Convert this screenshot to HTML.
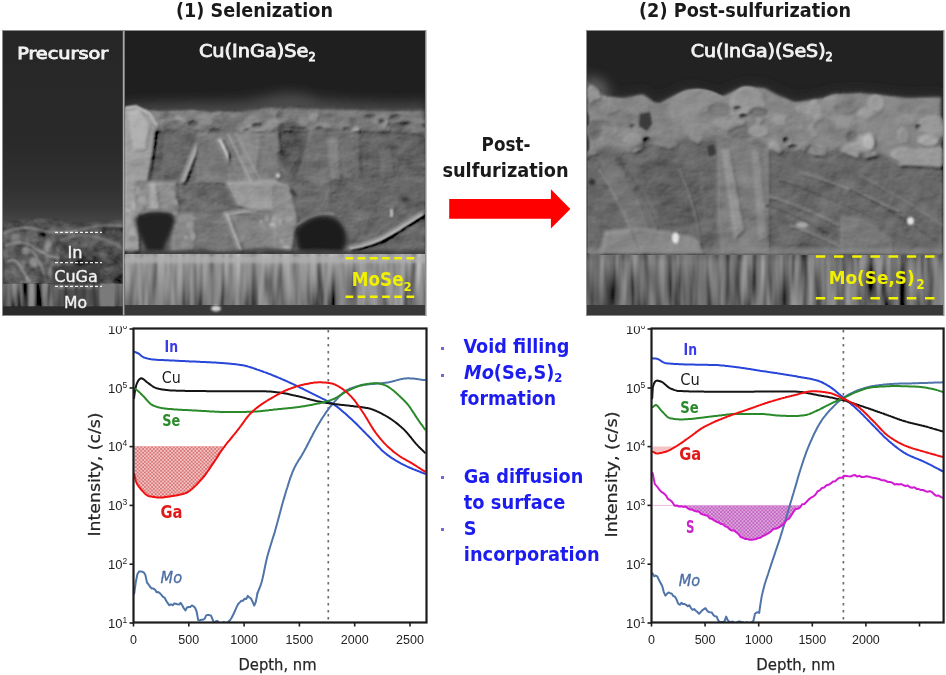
<!DOCTYPE html>
<html><head><meta charset="utf-8"><title>Selenization and post-sulfurization</title>
<style>
html,body{margin:0;padding:0;background:#fff;width:946px;height:675px;overflow:hidden}
svg{display:block}
.tt{font-family:"DejaVu Sans Condensed","DejaVu Sans","Liberation Sans",sans-serif;font-weight:bold;font-size:19.7px;fill:#1a1a1a}
.bl text{font-family:"DejaVu Sans Condensed","DejaVu Sans","Liberation Sans",sans-serif;font-weight:bold;font-size:19.7px}
.tk{font-family:"Liberation Sans",sans-serif;font-size:12.5px;fill:#222}
.sup{font-size:8.5px}
.ax{font-family:"DejaVu Sans","Liberation Sans",sans-serif;font-size:16px;fill:#262626;stroke:#262626;stroke-width:0.25}
.lb{font-family:"DejaVu Sans Condensed","DejaVu Sans",sans-serif;font-weight:bold;font-size:16.5px}
.lbn{font-family:"DejaVu Sans Condensed","DejaVu Sans",sans-serif;font-size:16.5px}
.lbi{font-family:"DejaVu Sans Condensed","DejaVu Sans",sans-serif;font-style:italic;font-size:15.5px;stroke:#4c6ea4;stroke-width:0.3}
.c{fill:none;stroke-width:2;stroke-linejoin:round;stroke-linecap:round}
.sl{font-family:"DejaVu Sans Condensed","DejaVu Sans",sans-serif;font-weight:normal;font-size:16.5px;fill:#f2f2f2;stroke:#f2f2f2;stroke-width:0.85}
.ys{font-family:"DejaVu Sans Condensed","DejaVu Sans",sans-serif;font-weight:bold;font-size:16px;fill:#f0f000}
</style></head><body>
<svg width="946" height="675" viewBox="0 0 946 675">
<defs>
<pattern id="hatchR" width="3.6" height="3.6" patternUnits="userSpaceOnUse"><rect width="3.6" height="3.6" fill="#f3c6c6"/><rect width="1.8" height="1.8" fill="#d97575"/><rect x="1.8" y="1.8" width="1.8" height="1.8" fill="#d97575"/></pattern>
<pattern id="hatchM" width="3.6" height="3.6" patternUnits="userSpaceOnUse"><rect width="3.6" height="3.6" fill="#dea4de"/><rect width="1.8" height="1.8" fill="#c066c0"/><rect x="1.8" y="1.8" width="1.8" height="1.8" fill="#c066c0"/></pattern>
</defs>
<rect width="946" height="675" fill="#fff"/>
<defs>
<filter id="b1" x="-20%" y="-20%" width="140%" height="140%"><feGaussianBlur stdDeviation="1"/></filter>
<filter id="b15" x="-20%" y="-20%" width="140%" height="140%"><feGaussianBlur stdDeviation="1.5"/></filter>
<filter id="b2" x="-20%" y="-20%" width="140%" height="140%"><feGaussianBlur stdDeviation="2.2"/></filter>
<filter id="b3" x="-30%" y="-30%" width="160%" height="160%"><feGaussianBlur stdDeviation="3.5"/></filter>
<filter id="b5" x="-30%" y="-30%" width="160%" height="160%"><feGaussianBlur stdDeviation="6"/></filter>
<filter id="emb" x="0" y="0" width="100%" height="100%">
 <feColorMatrix in="SourceGraphic" type="luminanceToAlpha" result="h"/>
 <feDiffuseLighting in="h" surfaceScale="6" diffuseConstant="1" lighting-color="#fff" result="l"><feDistantLight azimuth="225" elevation="55"/></feDiffuseLighting>
 <feColorMatrix in="l" type="matrix" values="0.33 0.33 0.33 0 0  0.33 0.33 0.33 0 0  0.33 0.33 0.33 0 0  0 0 0 0 1" result="lg"/>
 <feComposite in="SourceGraphic" in2="lg" operator="arithmetic" k1="0" k2="1" k3="0.5" k4="-0.41" result="o"/>
 <feComposite in="o" in2="SourceGraphic" operator="in"/>
</filter>
<filter id="texF" x="0" y="0" width="100%" height="100%">
 <feTurbulence type="fractalNoise" baseFrequency="0.06 0.08" numOctaves="3" seed="4" result="n"/>
 <feColorMatrix in="n" type="matrix" values="0.33 0.33 0.33 0 0  0.33 0.33 0.33 0 0  0.33 0.33 0.33 0 0  0 0 0 0 1" result="g"/>
 <feComposite in="SourceGraphic" in2="g" operator="arithmetic" k1="0" k2="1" k3="0.18" k4="-0.09" result="o"/>
 <feComposite in="o" in2="SourceGraphic" operator="in"/>
</filter>
<filter id="texR" x="0" y="0" width="100%" height="100%">
 <feTurbulence type="fractalNoise" baseFrequency="0.05 0.07" numOctaves="3" seed="21" result="n"/>
 <feColorMatrix in="n" type="matrix" values="0.33 0.33 0.33 0 0  0.33 0.33 0.33 0 0  0.33 0.33 0.33 0 0  0 0 0 0 1" result="g"/>
 <feComposite in="SourceGraphic" in2="g" operator="arithmetic" k1="0" k2="1" k3="0.18" k4="-0.09" result="o"/>
 <feComposite in="o" in2="SourceGraphic" operator="in"/>
</filter>
<filter id="texP" x="0" y="0" width="100%" height="100%">
 <feTurbulence type="fractalNoise" baseFrequency="0.08 0.12" numOctaves="3" seed="8" result="n"/>
 <feColorMatrix in="n" type="matrix" values="0.33 0.33 0.33 0 0  0.33 0.33 0.33 0 0  0.33 0.33 0.33 0 0  0 0 0 0 1" result="g"/>
 <feComposite in="SourceGraphic" in2="g" operator="arithmetic" k1="0" k2="1" k3="0.3" k4="-0.15" result="o"/>
 <feComposite in="o" in2="SourceGraphic" operator="in"/>
</filter>
<filter id="texMo" x="0" y="0" width="100%" height="100%">
 <feTurbulence type="fractalNoise" baseFrequency="0.12 0.015" numOctaves="2" seed="2" result="n"/>
 <feColorMatrix in="n" type="matrix" values="0.33 0.33 0.33 0 0  0.33 0.33 0.33 0 0  0.33 0.33 0.33 0 0  0 0 0 0 1" result="g"/>
 <feComposite in="SourceGraphic" in2="g" operator="arithmetic" k1="0" k2="1" k3="0.9" k4="-0.45" result="o"/>
 <feComposite in="o" in2="SourceGraphic" operator="in"/>
</filter>
<filter id="texMoP" x="0" y="0" width="100%" height="100%">
 <feTurbulence type="fractalNoise" baseFrequency="0.14 0.02" numOctaves="2" seed="5" result="n"/>
 <feColorMatrix in="n" type="matrix" values="0.33 0.33 0.33 0 0  0.33 0.33 0.33 0 0  0.33 0.33 0.33 0 0  0 0 0 0 1" result="g"/>
 <feComposite in="SourceGraphic" in2="g" operator="arithmetic" k1="0" k2="1" k3="0.8" k4="-0.4" result="o"/>
 <feComposite in="o" in2="SourceGraphic" operator="in"/>
</filter>
<filter id="texMo2" x="0" y="0" width="100%" height="100%">
 <feTurbulence type="fractalNoise" baseFrequency="0.12 0.015" numOctaves="2" seed="12" result="n"/>
 <feColorMatrix in="n" type="matrix" values="0.33 0.33 0.33 0 0  0.33 0.33 0.33 0 0  0.33 0.33 0.33 0 0  0 0 0 0 1" result="g"/>
 <feComposite in="SourceGraphic" in2="g" operator="arithmetic" k1="0" k2="1" k3="0.8" k4="-0.4" result="o"/>
 <feComposite in="o" in2="SourceGraphic" operator="in"/>
</filter>
<linearGradient id="gP" gradientUnits="userSpaceOnUse" x1="0" y1="31" x2="0" y2="315"><stop offset="0" stop-color="#262626"/><stop offset="0.4" stop-color="#2a2a2a"/><stop offset="0.55" stop-color="#313131"/><stop offset="0.63" stop-color="#3a3a3a"/><stop offset="0.68" stop-color="#484848"/><stop offset="1" stop-color="#4c4c4c"/></linearGradient>
<linearGradient id="gMo" x1="0" y1="0" x2="0" y2="1"><stop offset="0" stop-color="#a4a4a4"/><stop offset="0.25" stop-color="#929292"/><stop offset="1" stop-color="#7c7c7c"/></linearGradient>
<linearGradient id="gMo2" x1="0" y1="0" x2="0" y2="1"><stop offset="0" stop-color="#6a6a6a"/><stop offset="0.15" stop-color="#787878"/><stop offset="1" stop-color="#6e6e6e"/></linearGradient>
<linearGradient id="gMoP" x1="0" y1="0" x2="0" y2="1"><stop offset="0" stop-color="#6c6c6c"/><stop offset="1" stop-color="#5a5a5a"/></linearGradient>
<clipPath id="cpL"><rect x="124.5" y="31" width="300.5" height="284"/></clipPath>
<clipPath id="cpP"><rect x="3" y="31" width="120" height="284"/></clipPath>
<clipPath id="cpR"><rect x="587" y="31" width="356" height="284"/></clipPath>
</defs>
<rect x="2" y="30" width="424.5" height="286" fill="#8c8c8c"/>
<rect x="586" y="30" width="358.5" height="286" fill="#8c8c8c"/>
<g clip-path="url(#cpP)">
<rect x="3" y="31" width="120" height="284" fill="url(#gP)"/>
<g filter="url(#texP)"><g filter="url(#b15)">
<polygon points="3.0,224.0 20.0,220.0 40.0,218.0 60.0,221.0 80.0,224.0 100.0,222.0 123.0,220.0 123.0,290.0 3.0,290.0" fill="#505050" />
<polygon points="3.0,232.0 14.0,228.0 28.0,236.0 40.0,244.0 54.0,258.0 52.0,285.0 3.0,285.0" fill="#5a5a5a" />
<polygon points="56.0,230.0 75.0,227.0 95.0,230.0 112.0,236.0 122.0,244.0 100.0,248.0 75.0,246.0 60.0,242.0" fill="#5a5a5a" />
<polygon points="55.0,250.0 122.0,248.0 122.0,284.0 55.0,284.0" fill="#464646" />
</g>
<g filter="url(#b1)">
<ellipse cx="13.2" cy="268.4" rx="2.0" ry="7.0" fill="rgb(102,102,102)" opacity="0.75"/>
<ellipse cx="49.2" cy="260.1" rx="2.8" ry="4.2" fill="rgb(100,100,100)" opacity="0.75"/>
<ellipse cx="4.2" cy="253.4" rx="3.5" ry="4.2" fill="rgb(111,111,111)" opacity="0.75"/>
<ellipse cx="17.0" cy="238.0" rx="4.0" ry="6.7" fill="rgb(114,114,114)" opacity="0.75"/>
<ellipse cx="53.0" cy="264.9" rx="2.7" ry="3.6" fill="rgb(135,135,135)" opacity="0.75"/>
<ellipse cx="57.3" cy="253.3" rx="1.9" ry="7.1" fill="rgb(121,121,121)" opacity="0.75"/>
<ellipse cx="11.0" cy="279.6" rx="2.4" ry="5.4" fill="rgb(93,93,93)" opacity="0.75"/>
<ellipse cx="14.5" cy="237.7" rx="3.7" ry="4.2" fill="rgb(125,125,125)" opacity="0.75"/>
<ellipse cx="47.7" cy="245.8" rx="3.4" ry="6.8" fill="rgb(159,159,159)" opacity="0.75"/>
<ellipse cx="36.5" cy="270.3" rx="1.8" ry="5.4" fill="rgb(109,109,109)" opacity="0.75"/>
<ellipse cx="50.3" cy="245.5" rx="2.5" ry="4.8" fill="rgb(155,155,155)" opacity="0.75"/>
<ellipse cx="29.3" cy="254.1" rx="4.0" ry="4.9" fill="rgb(98,98,98)" opacity="0.75"/>
<ellipse cx="5.5" cy="240.4" rx="2.7" ry="5.5" fill="rgb(105,105,105)" opacity="0.75"/>
<ellipse cx="34.8" cy="271.2" rx="2.1" ry="6.0" fill="rgb(70,70,70)" opacity="0.75"/>
<ellipse cx="35.2" cy="265.3" rx="2.4" ry="7.6" fill="rgb(123,123,123)" opacity="0.75"/>
<ellipse cx="23.4" cy="264.1" rx="2.3" ry="3.5" fill="rgb(129,129,129)" opacity="0.75"/>
<ellipse cx="7.7" cy="274.2" rx="3.2" ry="6.4" fill="rgb(121,121,121)" opacity="0.75"/>
<ellipse cx="54.3" cy="281.0" rx="2.5" ry="7.9" fill="rgb(98,98,98)" opacity="0.75"/>
<ellipse cx="57.8" cy="263.8" rx="2.4" ry="4.2" fill="rgb(135,135,135)" opacity="0.75"/>
<ellipse cx="53.1" cy="243.6" rx="1.7" ry="7.0" fill="rgb(102,102,102)" opacity="0.75"/>
<ellipse cx="47.3" cy="258.7" rx="2.1" ry="4.4" fill="rgb(121,121,121)" opacity="0.75"/>
<ellipse cx="27.5" cy="244.0" rx="1.7" ry="4.7" fill="rgb(112,112,112)" opacity="0.75"/>
<ellipse cx="54.4" cy="282.2" rx="2.1" ry="7.8" fill="rgb(117,117,117)" opacity="0.75"/>
<ellipse cx="33.4" cy="270.2" rx="1.6" ry="4.1" fill="rgb(95,95,95)" opacity="0.75"/>
<ellipse cx="50.9" cy="273.4" rx="2.6" ry="5.9" fill="rgb(137,137,137)" opacity="0.75"/>
<ellipse cx="51.6" cy="250.5" rx="2.8" ry="4.4" fill="rgb(99,99,99)" opacity="0.75"/>
<ellipse cx="47.0" cy="236.5" rx="1.6" ry="6.0" fill="rgb(98,98,98)" opacity="0.75"/>
<ellipse cx="40.1" cy="276.0" rx="3.0" ry="4.3" fill="rgb(72,72,72)" opacity="0.75"/>
<ellipse cx="26.7" cy="281.1" rx="1.7" ry="3.5" fill="rgb(126,126,126)" opacity="0.75"/>
<ellipse cx="5.4" cy="257.0" rx="1.9" ry="7.3" fill="rgb(112,112,112)" opacity="0.75"/>
<ellipse cx="40.7" cy="241.9" rx="2.7" ry="4.1" fill="rgb(100,100,100)" opacity="0.75"/>
<ellipse cx="13.3" cy="244.6" rx="2.4" ry="6.5" fill="rgb(113,113,113)" opacity="0.75"/>
<ellipse cx="34.8" cy="238.2" rx="3.4" ry="7.0" fill="rgb(108,108,108)" opacity="0.75"/>
<ellipse cx="4.4" cy="257.8" rx="1.7" ry="6.8" fill="rgb(78,78,78)" opacity="0.75"/>
<ellipse cx="13.8" cy="269.4" rx="2.3" ry="3.2" fill="rgb(117,117,117)" opacity="0.75"/>
<ellipse cx="25.8" cy="250.5" rx="3.8" ry="4.5" fill="rgb(148,148,148)" opacity="0.75"/>
<ellipse cx="32.2" cy="261.8" rx="3.0" ry="5.5" fill="rgb(126,126,126)" opacity="0.75"/>
<ellipse cx="45.1" cy="281.5" rx="2.3" ry="6.5" fill="rgb(115,115,115)" opacity="0.75"/>
<ellipse cx="33.4" cy="262.4" rx="3.9" ry="4.8" fill="rgb(151,151,151)" opacity="0.75"/>
<ellipse cx="21.8" cy="282.7" rx="1.8" ry="3.4" fill="rgb(132,132,132)" opacity="0.75"/>
<ellipse cx="64.4" cy="272.7" rx="5.5" ry="2.0" fill="rgb(101,101,101)" opacity="0.6"/>
<ellipse cx="98.7" cy="254.1" rx="5.1" ry="2.8" fill="rgb(83,83,83)" opacity="0.6"/>
<ellipse cx="84.1" cy="243.3" rx="4.0" ry="3.4" fill="rgb(115,115,115)" opacity="0.6"/>
<ellipse cx="109.0" cy="268.2" rx="4.8" ry="2.5" fill="rgb(104,104,104)" opacity="0.6"/>
<ellipse cx="83.1" cy="256.3" rx="3.3" ry="3.0" fill="rgb(73,73,73)" opacity="0.6"/>
<ellipse cx="89.5" cy="267.9" rx="6.6" ry="3.6" fill="rgb(71,71,71)" opacity="0.6"/>
<ellipse cx="97.6" cy="269.9" rx="5.8" ry="3.4" fill="rgb(85,85,85)" opacity="0.6"/>
<ellipse cx="74.7" cy="277.8" rx="4.5" ry="3.2" fill="rgb(74,74,74)" opacity="0.6"/>
<ellipse cx="109.5" cy="280.2" rx="4.3" ry="2.6" fill="rgb(101,101,101)" opacity="0.6"/>
<ellipse cx="83.5" cy="239.3" rx="5.2" ry="2.2" fill="rgb(99,99,99)" opacity="0.6"/>
<ellipse cx="78.2" cy="279.2" rx="3.4" ry="3.9" fill="rgb(99,99,99)" opacity="0.6"/>
<ellipse cx="102.2" cy="242.3" rx="4.3" ry="3.3" fill="rgb(83,83,83)" opacity="0.6"/>
<path d="M3,234 Q20,224 40,230 T80,230 T123,226" stroke="#8a8a8a" stroke-width="2.2" fill="none"/>
<path d="M5,246 Q20,238 35,248 T60,258" stroke="#9a9a9a" stroke-width="1.8" fill="none"/>
<path d="M60,240 Q80,232 100,238 T122,250" stroke="#7e7e7e" stroke-width="1.8" fill="none"/>
<path d="M8,262 Q14,256 20,266 T30,282" stroke="#9a9a9a" stroke-width="2" fill="none"/>
<path d="M24,250 Q30,246 36,256 T44,274" stroke="#8e8e8e" stroke-width="1.8" fill="none"/>
</g>
</g>
<g filter="url(#texMoP)"><rect x="3" y="283.5" width="120" height="23" fill="url(#gMoP)"/></g>
<rect x="100" y="284" width="15" height="23" fill="#7a7a7a" filter="url(#b1)"/>
<rect x="52" y="266" width="48" height="19" fill="#3a3a3a" opacity="0.75" filter="url(#b1)"/>
<rect x="58" y="289" width="40" height="18" fill="#3a3a3a" opacity="0.6" filter="url(#b1)"/>
<rect x="3" y="306.5" width="120" height="9" fill="#2a2a2a"/>
</g>
<rect x="122.8" y="31" width="1.6" height="284" fill="#a8a8a8"/>
<g clip-path="url(#cpL)">
<rect x="124.5" y="31" width="301" height="284" fill="#1f1f1f"/>
<g filter="url(#b5)">
<polygon points="124.0,104.0 180.0,102.0 240.0,101.0 270.0,96.0 300.0,97.0 350.0,101.0 400.0,103.0 426.0,101.0 426.0,135.0 124.0,135.0" fill="#474747" />
<ellipse cx="290" cy="102" rx="28" ry="9" fill="#4c4c4c"/>
</g>
<g filter="url(#emb)">
<g filter="url(#texF)">
<g filter="url(#b2)">
<polygon points="124.0,107.0 160.0,109.0 200.0,110.0 240.0,110.0 270.0,105.0 300.0,106.0 350.0,108.0 400.0,109.0 426.0,108.0 426.0,256.0 124.0,256.0" fill="#6c6c6c" />
<polygon points="150.0,111.0 250.0,113.0 320.0,109.0 420.0,112.0 420.0,132.0 300.0,131.0 200.0,130.0 150.0,128.0" fill="#7a7a7a" />
</g>
<g filter="url(#b15)">
<ellipse cx="274.9" cy="124.3" rx="7.6" ry="4.6" fill="rgb(147,147,147)" opacity="0.7"/>
<ellipse cx="201.0" cy="123.3" rx="8.4" ry="5.3" fill="rgb(123,123,123)" opacity="0.7"/>
<ellipse cx="176.0" cy="118.7" rx="8.9" ry="2.6" fill="rgb(156,156,156)" opacity="0.7"/>
<ellipse cx="421.1" cy="133.2" rx="8.6" ry="4.7" fill="rgb(147,147,147)" opacity="0.7"/>
<ellipse cx="193.5" cy="112.3" rx="5.3" ry="3.3" fill="rgb(126,126,126)" opacity="0.7"/>
<ellipse cx="158.3" cy="122.2" rx="7.1" ry="5.4" fill="rgb(131,131,131)" opacity="0.7"/>
<ellipse cx="293.3" cy="126.1" rx="7.2" ry="3.5" fill="rgb(108,108,108)" opacity="0.7"/>
<ellipse cx="425.4" cy="133.9" rx="9.9" ry="5.0" fill="rgb(132,132,132)" opacity="0.7"/>
<ellipse cx="237.0" cy="117.1" rx="9.4" ry="3.9" fill="rgb(130,130,130)" opacity="0.7"/>
<ellipse cx="383.7" cy="120.5" rx="10.7" ry="5.5" fill="rgb(137,137,137)" opacity="0.7"/>
<ellipse cx="150.2" cy="116.6" rx="10.9" ry="3.9" fill="rgb(147,147,147)" opacity="0.7"/>
<ellipse cx="170.2" cy="125.8" rx="9.4" ry="3.4" fill="rgb(122,122,122)" opacity="0.7"/>
<ellipse cx="174.1" cy="119.3" rx="4.8" ry="3.4" fill="rgb(158,158,158)" opacity="0.7"/>
<ellipse cx="177.9" cy="113.3" rx="9.6" ry="3.1" fill="rgb(125,125,125)" opacity="0.7"/>
<ellipse cx="304.4" cy="121.8" rx="4.9" ry="4.8" fill="rgb(141,141,141)" opacity="0.7"/>
<ellipse cx="182.2" cy="121.3" rx="5.5" ry="3.4" fill="rgb(156,156,156)" opacity="0.7"/>
<ellipse cx="418.0" cy="129.7" rx="5.5" ry="3.9" fill="rgb(120,120,120)" opacity="0.7"/>
<ellipse cx="385.8" cy="126.1" rx="4.7" ry="6.0" fill="rgb(163,163,163)" opacity="0.7"/>
<ellipse cx="208.9" cy="117.7" rx="6.1" ry="2.8" fill="rgb(134,134,134)" opacity="0.7"/>
<ellipse cx="174.9" cy="124.8" rx="5.7" ry="4.6" fill="rgb(117,117,117)" opacity="0.7"/>
<ellipse cx="252.6" cy="122.0" rx="8.0" ry="5.5" fill="rgb(149,149,149)" opacity="0.7"/>
<ellipse cx="200.5" cy="115.4" rx="10.4" ry="5.4" fill="rgb(127,127,127)" opacity="0.7"/>
<ellipse cx="218.9" cy="116.2" rx="5.4" ry="5.8" fill="rgb(129,129,129)" opacity="0.7"/>
<ellipse cx="393.5" cy="125.3" rx="7.0" ry="2.9" fill="rgb(94,94,94)" opacity="0.7"/>
<ellipse cx="160.7" cy="133.2" rx="5.8" ry="5.4" fill="rgb(133,133,133)" opacity="0.7"/>
<ellipse cx="314.6" cy="118.5" rx="5.2" ry="5.0" fill="rgb(156,156,156)" opacity="0.7"/>
<ellipse cx="169.0" cy="117.0" rx="8.3" ry="3.5" fill="rgb(102,102,102)" opacity="0.7"/>
<ellipse cx="403.2" cy="116.5" rx="4.1" ry="3.4" fill="rgb(120,120,120)" opacity="0.7"/>
<ellipse cx="273.0" cy="113.3" rx="8.0" ry="3.0" fill="rgb(138,138,138)" opacity="0.7"/>
<ellipse cx="250.0" cy="131.6" rx="10.9" ry="4.8" fill="rgb(145,145,145)" opacity="0.7"/>
<ellipse cx="340.8" cy="124.9" rx="4.1" ry="5.7" fill="rgb(134,134,134)" opacity="0.7"/>
<ellipse cx="343.5" cy="133.2" rx="4.1" ry="4.7" fill="rgb(135,135,135)" opacity="0.7"/>
<ellipse cx="283.1" cy="128.1" rx="4.5" ry="4.4" fill="rgb(106,106,106)" opacity="0.7"/>
<ellipse cx="353.4" cy="131.8" rx="9.2" ry="5.0" fill="rgb(185,185,185)" opacity="0.7"/>
<ellipse cx="368.9" cy="132.1" rx="10.3" ry="5.5" fill="rgb(117,117,117)" opacity="0.7"/>
<ellipse cx="265.1" cy="129.4" rx="10.0" ry="4.5" fill="rgb(151,151,151)" opacity="0.7"/>
<ellipse cx="322.5" cy="120.4" rx="4.6" ry="4.7" fill="rgb(112,112,112)" opacity="0.7"/>
<ellipse cx="424.2" cy="131.4" rx="9.1" ry="3.9" fill="rgb(121,121,121)" opacity="0.7"/>
<ellipse cx="352.9" cy="124.8" rx="4.6" ry="5.1" fill="rgb(103,103,103)" opacity="0.7"/>
<ellipse cx="158.2" cy="125.2" rx="7.4" ry="3.3" fill="rgb(143,143,143)" opacity="0.7"/>
<ellipse cx="342.7" cy="122.9" rx="5.8" ry="2.5" fill="rgb(104,104,104)" opacity="0.7"/>
<ellipse cx="233.1" cy="126.9" rx="5.4" ry="3.1" fill="rgb(108,108,108)" opacity="0.7"/>
<ellipse cx="400.0" cy="126.5" rx="6.3" ry="4.8" fill="rgb(100,100,100)" opacity="0.7"/>
<ellipse cx="204.8" cy="121.5" rx="9.6" ry="5.7" fill="rgb(144,144,144)" opacity="0.7"/>
<ellipse cx="393.0" cy="120.5" rx="5.0" ry="4.2" fill="rgb(119,119,119)" opacity="0.7"/>
<ellipse cx="381.0" cy="130.7" rx="9.0" ry="5.8" fill="rgb(125,125,125)" opacity="0.7"/>
<ellipse cx="226.4" cy="115.7" rx="5.5" ry="3.9" fill="rgb(119,119,119)" opacity="0.7"/>
<ellipse cx="322.7" cy="122.9" rx="6.2" ry="5.4" fill="rgb(135,135,135)" opacity="0.7"/>
<ellipse cx="421.0" cy="122.0" rx="10.1" ry="2.6" fill="rgb(135,135,135)" opacity="0.7"/>
<ellipse cx="345.6" cy="124.6" rx="6.2" ry="5.3" fill="rgb(133,133,133)" opacity="0.7"/>
<ellipse cx="155.3" cy="115.0" rx="9.8" ry="3.3" fill="rgb(128,128,128)" opacity="0.7"/>
<ellipse cx="188.9" cy="113.0" rx="8.4" ry="4.1" fill="rgb(133,133,133)" opacity="0.7"/>
<ellipse cx="323.9" cy="126.4" rx="8.8" ry="3.2" fill="rgb(146,146,146)" opacity="0.7"/>
<ellipse cx="281.1" cy="115.9" rx="4.1" ry="4.2" fill="rgb(94,94,94)" opacity="0.7"/>
<ellipse cx="347.1" cy="115.9" rx="8.9" ry="4.3" fill="rgb(129,129,129)" opacity="0.7"/>
<ellipse cx="319.8" cy="129.6" rx="4.2" ry="2.7" fill="#555" opacity="0.8"/>
<ellipse cx="395.6" cy="117.6" rx="5.8" ry="2.6" fill="#555" opacity="0.8"/>
<ellipse cx="193.8" cy="124.2" rx="4.9" ry="2.9" fill="#555" opacity="0.8"/>
<ellipse cx="258.0" cy="126.2" rx="5.6" ry="2.7" fill="#555" opacity="0.8"/>
<ellipse cx="405.5" cy="124.3" rx="5.0" ry="1.8" fill="#555" opacity="0.8"/>
<ellipse cx="347.7" cy="130.7" rx="4.9" ry="2.6" fill="#555" opacity="0.8"/>
<ellipse cx="215.5" cy="132.2" rx="5.9" ry="3.0" fill="#555" opacity="0.8"/>
<ellipse cx="299.6" cy="130.2" rx="4.0" ry="2.9" fill="#555" opacity="0.8"/>
<ellipse cx="382.5" cy="122.3" rx="3.2" ry="2.2" fill="#555" opacity="0.8"/>
<ellipse cx="303.1" cy="129.8" rx="4.5" ry="1.5" fill="#555" opacity="0.8"/>
<ellipse cx="370.4" cy="117.2" rx="5.4" ry="1.8" fill="#555" opacity="0.8"/>
<ellipse cx="247.1" cy="130.2" rx="3.4" ry="1.7" fill="#555" opacity="0.8"/>
<ellipse cx="294.3" cy="129.0" rx="5.5" ry="2.5" fill="#555" opacity="0.8"/>
<ellipse cx="405.9" cy="124.9" rx="5.8" ry="1.6" fill="#555" opacity="0.8"/>
</g>
<g filter="url(#b15)">
<polygon points="124.0,106.0 136.0,105.0 150.0,112.0 158.0,128.0 152.0,160.0 146.0,196.0 124.0,198.0" fill="#9e9e9e" />
<polygon points="128.0,112.0 140.0,110.0 150.0,124.0 146.0,150.0 134.0,150.0" fill="#b0b0b0" />
<polygon points="156.0,132.0 197.0,133.0 197.0,196.0 150.0,196.0" fill="#6a6a6a" />
<polygon points="156.0,132.0 166.0,133.0 160.0,196.0 150.0,196.0" fill="#5e5e5e" />
<polygon points="200.0,134.0 204.0,136.0 184.0,187.0 180.0,185.0" fill="#a0a0a0" />
<polygon points="197.0,134.0 229.0,134.0 229.0,193.0 197.0,193.0" fill="#7a7a7a" />
<polygon points="218.0,140.0 222.0,139.0 246.0,187.0 241.0,190.0" fill="#c0c0c0" />
<polygon points="229.0,134.0 279.0,132.0 279.0,182.0 250.0,190.0 229.0,190.0" fill="#7e7e7e" />
<polygon points="240.0,136.0 262.0,134.0 256.0,180.0 246.0,182.0" fill="#8c8c8c" />
<polygon points="279.0,131.0 310.0,131.0 300.0,172.0 296.0,178.0 284.0,168.0" fill="#565656" />
<polygon points="310.0,131.0 360.0,132.0 360.0,210.0 318.0,210.0 304.0,192.0" fill="#727272" />
<polygon points="328.0,140.0 338.0,140.0 342.0,200.0 334.0,200.0" fill="#828282" />
<polygon points="360.0,132.0 426.0,134.0 426.0,212.0 360.0,212.0" fill="#646464" />
<polygon points="380.0,150.0 392.0,150.0 396.0,200.0 384.0,200.0" fill="#6e6e6e" />
<polygon points="124.0,196.0 140.0,196.0 140.0,252.0 124.0,252.0" fill="#a0a0a0" />
<polygon points="136.0,182.0 178.0,182.0 180.0,214.0 136.0,214.0" fill="#8e8e8e" />
<polygon points="150.0,184.0 156.0,183.0 160.0,210.0 152.0,210.0" fill="#a8a8a8" />
<polygon points="172.0,214.0 195.0,214.0 197.0,252.0 172.0,252.0" fill="#8a8a8a" />
<polygon points="176.0,183.0 230.0,183.0 226.0,212.0 197.0,214.0 178.0,212.0" fill="#6c6c6c" />
<polygon points="195.0,216.0 230.0,212.0 250.0,208.0 290.0,210.0 292.0,220.0 285.0,235.0 262.0,248.0 230.0,252.0 195.0,252.0" fill="#777" />
<polygon points="222.0,215.0 240.0,211.0 260.0,212.0 238.0,217.0" fill="#a8a8a8" />
<polygon points="226.0,183.0 275.0,180.0 290.0,186.0 288.0,210.0 262.0,212.0 238.0,207.0" fill="#9a9a9a" />
<polygon points="225.0,214.0 229.0,213.0 244.0,252.0 239.0,252.0" fill="#a8a8a8" />
<polygon points="229.0,214.0 274.0,212.0 274.0,252.0 244.0,252.0" fill="#858585" />
<polygon points="274.0,185.0 296.0,188.0 298.0,224.0 292.0,252.0 274.0,252.0" fill="#8e8e8e" />
<polygon points="290.0,185.0 330.0,184.0 322.0,214.0 298.0,218.0" fill="#6e6e6e" />
<polygon points="330.0,180.0 426.0,180.0 426.0,216.0 330.0,216.0" fill="#696969" />
<polygon points="347.0,218.0 362.0,214.0 380.0,213.0 394.0,216.0 405.0,222.0 404.0,234.0 390.0,240.0 370.0,246.0 350.0,250.0 346.0,236.0" fill="#6c6c6c" />
<path d="M350,249 Q372,246 390,235 Q408,224 424,214" stroke="#b8b8b8" stroke-width="3.2" fill="none"/>
<polygon points="392.0,238.0 426.0,220.0 426.0,254.0 392.0,254.0" fill="#6a6a6a" />
</g>
</g>
</g>
<g filter="url(#b1)">
<ellipse cx="132.0" cy="232.9" rx="3.1" ry="3.7" fill="rgb(173,173,173)" opacity="0.8"/>
<ellipse cx="136.7" cy="209.7" rx="3.1" ry="3.0" fill="rgb(154,154,154)" opacity="0.8"/>
<ellipse cx="131.0" cy="250.2" rx="3.9" ry="3.1" fill="rgb(148,148,148)" opacity="0.8"/>
<ellipse cx="128.2" cy="216.1" rx="2.7" ry="1.6" fill="rgb(164,164,164)" opacity="0.8"/>
<ellipse cx="132.5" cy="238.3" rx="3.8" ry="2.9" fill="rgb(136,136,136)" opacity="0.8"/>
<ellipse cx="133.5" cy="206.1" rx="1.6" ry="4.0" fill="rgb(183,183,183)" opacity="0.8"/>
<ellipse cx="128.0" cy="211.1" rx="1.8" ry="2.3" fill="rgb(191,191,191)" opacity="0.8"/>
<ellipse cx="127.4" cy="214.2" rx="1.5" ry="2.8" fill="rgb(149,149,149)" opacity="0.8"/>
<ellipse cx="128.3" cy="220.5" rx="1.6" ry="3.7" fill="rgb(171,171,171)" opacity="0.8"/>
<ellipse cx="134.5" cy="229.1" rx="1.8" ry="1.9" fill="rgb(175,175,175)" opacity="0.8"/>
<ellipse cx="175.4" cy="226.0" rx="2.0" ry="2.0" fill="rgb(163,163,163)" opacity="0.8"/>
<ellipse cx="190.3" cy="231.4" rx="2.7" ry="2.4" fill="rgb(155,155,155)" opacity="0.8"/>
<ellipse cx="187.1" cy="243.8" rx="2.7" ry="2.4" fill="rgb(147,147,147)" opacity="0.8"/>
<ellipse cx="193.9" cy="218.2" rx="3.7" ry="1.5" fill="rgb(156,156,156)" opacity="0.8"/>
<ellipse cx="187.2" cy="230.9" rx="3.3" ry="1.9" fill="rgb(134,134,134)" opacity="0.8"/>
<ellipse cx="185.9" cy="237.3" rx="1.6" ry="1.7" fill="rgb(184,184,184)" opacity="0.8"/>
<ellipse cx="188.8" cy="241.7" rx="2.8" ry="2.2" fill="rgb(131,131,131)" opacity="0.8"/>
<ellipse cx="196.5" cy="250.5" rx="2.7" ry="1.6" fill="rgb(154,154,154)" opacity="0.8"/>
<ellipse cx="183.1" cy="244.5" rx="2.0" ry="3.3" fill="rgb(146,146,146)" opacity="0.8"/>
<ellipse cx="189.4" cy="224.9" rx="3.1" ry="3.4" fill="rgb(157,157,157)" opacity="0.8"/>
<ellipse cx="199.1" cy="245.6" rx="3.8" ry="3.7" fill="rgb(119,119,119)" opacity="0.8"/>
<ellipse cx="193.0" cy="236.3" rx="2.8" ry="3.6" fill="rgb(163,163,163)" opacity="0.8"/>
<ellipse cx="281.8" cy="241.4" rx="2.2" ry="3.0" fill="rgb(161,161,161)" opacity="0.8"/>
<ellipse cx="279.8" cy="221.5" rx="2.0" ry="3.9" fill="rgb(167,167,167)" opacity="0.8"/>
<ellipse cx="260.7" cy="249.2" rx="4.0" ry="3.2" fill="rgb(163,163,163)" opacity="0.8"/>
<ellipse cx="258.3" cy="249.7" rx="2.5" ry="3.8" fill="rgb(136,136,136)" opacity="0.8"/>
<ellipse cx="288.9" cy="219.2" rx="3.5" ry="3.5" fill="rgb(163,163,163)" opacity="0.8"/>
<ellipse cx="266.7" cy="218.3" rx="2.4" ry="3.5" fill="rgb(160,160,160)" opacity="0.8"/>
<ellipse cx="286.1" cy="246.9" rx="3.6" ry="1.5" fill="rgb(189,189,189)" opacity="0.8"/>
<ellipse cx="258.2" cy="246.8" rx="3.0" ry="2.3" fill="rgb(153,153,153)" opacity="0.8"/>
<ellipse cx="262.9" cy="226.6" rx="2.6" ry="2.0" fill="rgb(148,148,148)" opacity="0.8"/>
<ellipse cx="261.1" cy="221.7" rx="1.8" ry="1.8" fill="rgb(177,177,177)" opacity="0.8"/>
<ellipse cx="273.8" cy="218.9" rx="2.7" ry="3.1" fill="rgb(166,166,166)" opacity="0.8"/>
<ellipse cx="266.9" cy="214.9" rx="1.7" ry="2.3" fill="rgb(138,138,138)" opacity="0.8"/>
<ellipse cx="271.7" cy="223.6" rx="1.5" ry="2.6" fill="rgb(148,148,148)" opacity="0.8"/>
<ellipse cx="272.6" cy="224.7" rx="3.3" ry="2.1" fill="rgb(191,191,191)" opacity="0.8"/>
<ellipse cx="137.9" cy="190.1" rx="1.8" ry="3.9" fill="rgb(166,166,166)" opacity="0.8"/>
<ellipse cx="164.4" cy="210.9" rx="2.3" ry="3.5" fill="rgb(147,147,147)" opacity="0.8"/>
<ellipse cx="137.8" cy="192.2" rx="3.5" ry="2.5" fill="rgb(156,156,156)" opacity="0.8"/>
<ellipse cx="174.6" cy="188.0" rx="3.1" ry="2.0" fill="rgb(129,129,129)" opacity="0.8"/>
<ellipse cx="144.8" cy="209.0" rx="2.2" ry="3.3" fill="rgb(120,120,120)" opacity="0.8"/>
<ellipse cx="175.9" cy="202.3" rx="2.1" ry="3.2" fill="rgb(164,164,164)" opacity="0.8"/>
<ellipse cx="177.8" cy="206.8" rx="1.7" ry="3.4" fill="rgb(132,132,132)" opacity="0.8"/>
<ellipse cx="143.0" cy="191.7" rx="1.6" ry="1.9" fill="rgb(156,156,156)" opacity="0.8"/>
<ellipse cx="152.9" cy="198.4" rx="3.4" ry="1.7" fill="rgb(158,158,158)" opacity="0.8"/>
<ellipse cx="142.0" cy="199.6" rx="3.8" ry="3.8" fill="rgb(166,166,166)" opacity="0.8"/>
</g>
<g filter="url(#b1)" fill="none">
<path d="M228,134 L252,184" stroke="#acacac" stroke-width="1.6"/>
<path d="M236,133 L259,178" stroke="#a2a2a2" stroke-width="1.4"/>
<path d="M126,108 L136,106 L150,114 L157,126" stroke="#c4c4c4" stroke-width="2"/>
<circle cx="278" cy="175.5" r="2.2" fill="#d4d4d4"/>
<path d="M291,190 L296,196" stroke="#3a3a3a" stroke-width="3"/>
<path d="M140,214 Q156,208 176,214" stroke="#a8a8a8" stroke-width="2"/>
<path d="M296,226 Q312,212 334,214" stroke="#9a9a9a" stroke-width="2"/>
</g>
<g filter="url(#b2)">
<path d="M135,218 C142,212 156,211 166,212 C172,213 176,216 175,222 C172,232 167,240 165,247 L164,252 L146,252 L145,247 C140,238 136,228 135,218 Z" fill="#242424"/>
<path d="M296,230 C304,220 314,216 324,216 C336,216 344,224 346,234 C347,242 345,248 342,252 L300,252 C297,246 295,238 296,230 Z" fill="#1c1c1c"/>
<ellipse cx="405.5" cy="199.5" rx="4" ry="2.5" fill="#2c2c2c"/>
</g>
<rect x="390" y="209" width="3" height="8" fill="#bdbdbd" filter="url(#b1)"/>
<g filter="url(#b15)" opacity="0.75">
<path d="M124,252 L150,249 L175,251 L200,248 L215,252 L240,250 L262,247 L290,250 L320,249 L350,251 L380,249 L400,251 L426,249 L426,256 L124,256 Z" fill="#3c3c3c"/>
</g>
<g filter="url(#texMo)"><rect x="124.5" y="254" width="301" height="52" fill="url(#gMo)"/></g>
<g filter="url(#b1)">
<path d="M124,259 Q130,254 140,258 Q150,253 160,257 Q170,255 178,258 Q190,252 200,257 Q215,254 228,258 Q240,255 250,257 Q262,253 275,257 Q290,254 300,257 Q320,254 340,258 Q360,254 380,257 Q400,254 426,257 L426,263 L124,263 Z" fill="#b0b0b0" opacity="0.7"/>
</g>
<rect x="124.5" y="305" width="301" height="10" fill="#383838"/>
<ellipse cx="216" cy="308.5" rx="5" ry="3" fill="#d0d0d0" filter="url(#b1)"/>
</g>
<g clip-path="url(#cpR)">
<rect x="587" y="31" width="356" height="284" fill="#222"/>
<g filter="url(#b5)">
<polygon points="587.0,70.0 598.0,80.0 605.0,93.0 624.0,95.0 643.0,91.0 658.0,101.0 672.0,93.0 687.0,87.0 700.0,88.0 719.0,95.0 731.0,89.0 742.0,84.0 766.0,85.0 776.0,91.0 795.0,99.0 823.0,95.0 833.0,91.0 861.0,90.0 890.0,93.0 909.0,95.0 943.0,94.0 943.0,140.0 587.0,140.0" fill="#2e2e2e" />
<ellipse cx="594" cy="90" rx="14" ry="12" fill="#5e5e5e"/>
</g>
<g filter="url(#emb)">
<g filter="url(#texR)">
<g filter="url(#b2)">
<polygon points="587.0,78.0 596.0,88.0 605.0,94.0 624.0,96.0 643.0,92.0 658.0,102.0 672.0,94.0 687.0,88.0 700.0,89.0 719.0,96.0 731.0,90.0 742.0,85.0 766.0,86.0 776.0,92.0 795.0,100.0 823.0,96.0 833.0,92.0 861.0,91.0 890.0,94.0 909.0,96.0 943.0,95.0 943.0,257.0 587.0,257.0" fill="#727272" />
<polygon points="587.0,80.0 596.0,90.0 605.0,96.0 624.0,98.0 643.0,94.0 658.0,104.0 672.0,96.0 687.0,90.0 700.0,91.0 719.0,98.0 731.0,92.0 742.0,87.0 766.0,88.0 776.0,94.0 795.0,102.0 823.0,98.0 833.0,94.0 861.0,93.0 890.0,96.0 909.0,98.0 943.0,97.0 943.0,166.0 920.0,158.0 900.0,164.0 880.0,152.0 860.0,156.0 840.0,148.0 820.0,154.0 800.0,146.0 780.0,150.0 760.0,142.0 740.0,146.0 716.0,136.0 700.0,142.0 690.0,136.0 670.0,146.0 650.0,140.0 630.0,152.0 610.0,146.0 587.0,154.0" fill="#878787" />
</g>
<g filter="url(#b15)">
<ellipse cx="700" cy="110" rx="30" ry="22" fill="#8e8e8e"/>
<ellipse cx="748" cy="108" rx="18" ry="22" fill="#959595"/>
<ellipse cx="615" cy="118" rx="22" ry="18" fill="#878787"/>
<ellipse cx="840" cy="115" rx="25" ry="16" fill="#8f8f8f"/>
<ellipse cx="905" cy="155" rx="14" ry="7" fill="#a0a0a0"/>
<ellipse cx="880" cy="120" rx="25" ry="14" fill="#8a8a8a"/>
<ellipse cx="785" cy="125" rx="14" ry="16" fill="#8a8a8a"/>
<ellipse cx="815" cy="118" rx="8" ry="18" fill="#999"/>
<ellipse cx="809.9" cy="149.2" rx="13.2" ry="9.7" fill="rgb(142,142,142)" opacity="0.7"/>
<ellipse cx="600.2" cy="128.6" rx="14.5" ry="7.9" fill="rgb(108,108,108)" opacity="0.7"/>
<ellipse cx="908.0" cy="109.0" rx="10.2" ry="5.5" fill="rgb(124,124,124)" opacity="0.7"/>
<ellipse cx="594.6" cy="108.2" rx="8.5" ry="9.5" fill="rgb(139,139,139)" opacity="0.7"/>
<ellipse cx="860.3" cy="107.9" rx="13.2" ry="4.8" fill="rgb(138,138,138)" opacity="0.7"/>
<ellipse cx="590.6" cy="155.1" rx="7.9" ry="5.3" fill="rgb(139,139,139)" opacity="0.7"/>
<ellipse cx="936.8" cy="156.9" rx="8.6" ry="9.8" fill="rgb(121,121,121)" opacity="0.7"/>
<ellipse cx="662.3" cy="161.5" rx="12.2" ry="9.8" fill="rgb(139,139,139)" opacity="0.7"/>
<ellipse cx="905.5" cy="120.6" rx="9.3" ry="5.0" fill="rgb(148,148,148)" opacity="0.7"/>
<ellipse cx="696.4" cy="137.1" rx="6.0" ry="8.1" fill="rgb(149,149,149)" opacity="0.7"/>
<ellipse cx="709.3" cy="119.1" rx="13.4" ry="6.9" fill="rgb(137,137,137)" opacity="0.7"/>
<ellipse cx="838.7" cy="101.6" rx="14.8" ry="4.1" fill="rgb(161,161,161)" opacity="0.7"/>
<ellipse cx="854.7" cy="154.5" rx="6.2" ry="8.7" fill="rgb(130,130,130)" opacity="0.7"/>
<ellipse cx="593.2" cy="94.4" rx="7.6" ry="9.7" fill="rgb(160,160,160)" opacity="0.7"/>
<ellipse cx="659.4" cy="150.9" rx="14.4" ry="9.7" fill="rgb(136,136,136)" opacity="0.7"/>
<ellipse cx="775.2" cy="149.9" rx="7.0" ry="8.5" fill="rgb(157,157,157)" opacity="0.7"/>
<ellipse cx="871.4" cy="155.6" rx="6.3" ry="9.7" fill="rgb(157,157,157)" opacity="0.7"/>
<ellipse cx="805.6" cy="160.0" rx="9.1" ry="9.5" fill="rgb(152,152,152)" opacity="0.7"/>
<ellipse cx="782.4" cy="120.8" rx="8.9" ry="5.1" fill="rgb(153,153,153)" opacity="0.7"/>
<ellipse cx="833.3" cy="164.8" rx="7.5" ry="4.3" fill="rgb(149,149,149)" opacity="0.7"/>
<ellipse cx="938.3" cy="135.2" rx="9.7" ry="5.4" fill="rgb(120,120,120)" opacity="0.7"/>
<ellipse cx="750.8" cy="122.4" rx="6.5" ry="9.5" fill="rgb(128,128,128)" opacity="0.7"/>
<ellipse cx="601.6" cy="130.9" rx="13.5" ry="4.8" fill="rgb(140,140,140)" opacity="0.7"/>
<ellipse cx="812.5" cy="152.0" rx="7.0" ry="6.6" fill="rgb(106,106,106)" opacity="0.7"/>
<ellipse cx="642.7" cy="154.6" rx="8.7" ry="6.7" fill="rgb(176,176,176)" opacity="0.7"/>
<ellipse cx="934.5" cy="130.2" rx="10.4" ry="8.4" fill="rgb(144,144,144)" opacity="0.7"/>
<ellipse cx="759.1" cy="113.0" rx="9.6" ry="4.9" fill="rgb(110,110,110)" opacity="0.7"/>
<ellipse cx="928.8" cy="141.3" rx="10.5" ry="6.0" fill="rgb(178,178,178)" opacity="0.7"/>
<ellipse cx="621.5" cy="119.0" rx="13.0" ry="9.2" fill="rgb(126,126,126)" opacity="0.7"/>
<ellipse cx="863.5" cy="144.3" rx="12.0" ry="8.6" fill="rgb(166,166,166)" opacity="0.7"/>
<ellipse cx="718.3" cy="146.3" rx="8.5" ry="6.9" fill="rgb(148,148,148)" opacity="0.7"/>
<ellipse cx="693.7" cy="161.2" rx="11.8" ry="7.5" fill="rgb(120,120,120)" opacity="0.7"/>
<ellipse cx="594.1" cy="131.9" rx="8.3" ry="8.0" fill="rgb(116,116,116)" opacity="0.7"/>
<ellipse cx="818.5" cy="152.4" rx="9.1" ry="7.9" fill="rgb(151,151,151)" opacity="0.7"/>
<ellipse cx="850.5" cy="153.4" rx="9.2" ry="9.1" fill="rgb(161,161,161)" opacity="0.7"/>
<ellipse cx="934.6" cy="162.2" rx="10.7" ry="7.2" fill="rgb(127,127,127)" opacity="0.7"/>
<ellipse cx="648.7" cy="154.7" rx="14.4" ry="6.9" fill="rgb(135,135,135)" opacity="0.7"/>
<ellipse cx="847.8" cy="109.1" rx="13.0" ry="7.5" fill="rgb(121,121,121)" opacity="0.7"/>
<ellipse cx="824.9" cy="128.1" rx="11.6" ry="8.6" fill="rgb(128,128,128)" opacity="0.7"/>
<ellipse cx="599.8" cy="107.5" rx="10.0" ry="7.9" fill="rgb(125,125,125)" opacity="0.7"/>
<ellipse cx="667.3" cy="145.4" rx="11.7" ry="4.3" fill="rgb(133,133,133)" opacity="0.7"/>
<ellipse cx="609.1" cy="109.1" rx="8.9" ry="5.1" fill="rgb(147,147,147)" opacity="0.7"/>
<ellipse cx="658.3" cy="109.9" rx="10.2" ry="6.3" fill="rgb(128,128,128)" opacity="0.7"/>
<ellipse cx="674.0" cy="158.6" rx="6.0" ry="6.4" fill="rgb(131,131,131)" opacity="0.7"/>
<ellipse cx="688.3" cy="123.2" rx="7.0" ry="9.0" fill="rgb(141,141,141)" opacity="0.7"/>
<ellipse cx="806.6" cy="110.1" rx="10.9" ry="6.0" fill="rgb(148,148,148)" opacity="0.7"/>
<ellipse cx="795.1" cy="162.5" rx="13.4" ry="6.5" fill="rgb(153,153,153)" opacity="0.7"/>
<ellipse cx="720.4" cy="110.3" rx="11.4" ry="7.4" fill="rgb(123,123,123)" opacity="0.7"/>
<ellipse cx="927.9" cy="163.0" rx="11.5" ry="6.1" fill="rgb(145,145,145)" opacity="0.7"/>
<ellipse cx="628.1" cy="137.3" rx="11.5" ry="4.8" fill="rgb(144,144,144)" opacity="0.7"/>
<ellipse cx="812.2" cy="158.3" rx="9.4" ry="6.6" fill="rgb(146,146,146)" opacity="0.7"/>
<ellipse cx="933.3" cy="125.5" rx="14.7" ry="9.5" fill="rgb(158,158,158)" opacity="0.7"/>
<ellipse cx="800.3" cy="120.8" rx="14.8" ry="7.0" fill="rgb(132,132,132)" opacity="0.7"/>
<ellipse cx="937.4" cy="132.6" rx="8.6" ry="6.9" fill="rgb(152,152,152)" opacity="0.7"/>
<ellipse cx="633.0" cy="140.4" rx="10.0" ry="5.8" fill="rgb(150,150,150)" opacity="0.7"/>
<ellipse cx="594.7" cy="131.1" rx="8.5" ry="9.6" fill="rgb(115,115,115)" opacity="0.7"/>
<ellipse cx="866.0" cy="114.1" rx="8.4" ry="4.9" fill="rgb(158,158,158)" opacity="0.7"/>
<ellipse cx="804.6" cy="133.3" rx="11.8" ry="7.6" fill="rgb(144,144,144)" opacity="0.7"/>
<ellipse cx="852.4" cy="105.3" rx="12.8" ry="5.8" fill="rgb(130,130,130)" opacity="0.7"/>
<ellipse cx="694.8" cy="131.9" rx="10.2" ry="6.2" fill="rgb(141,141,141)" opacity="0.7"/>
<ellipse cx="853.0" cy="137.3" rx="6.3" ry="5.5" fill="rgb(110,110,110)" opacity="0.7"/>
<ellipse cx="903.4" cy="136.1" rx="6.1" ry="8.7" fill="rgb(154,154,154)" opacity="0.7"/>
<ellipse cx="741.0" cy="133.8" rx="12.4" ry="7.8" fill="rgb(109,109,109)" opacity="0.7"/>
<ellipse cx="726.1" cy="124.5" rx="13.7" ry="5.2" fill="rgb(149,149,149)" opacity="0.7"/>
<ellipse cx="694.6" cy="153.0" rx="6.6" ry="9.0" fill="rgb(139,139,139)" opacity="0.7"/>
<ellipse cx="691.1" cy="149.5" rx="14.2" ry="4.9" fill="rgb(128,128,128)" opacity="0.7"/>
<ellipse cx="758.9" cy="132.0" rx="10.5" ry="6.0" fill="rgb(157,157,157)" opacity="0.7"/>
<ellipse cx="876.6" cy="103.2" rx="8.1" ry="8.9" fill="rgb(162,162,162)" opacity="0.7"/>
<ellipse cx="869.5" cy="142.4" rx="6.2" ry="8.3" fill="rgb(190,190,190)" opacity="0.7"/>
<ellipse cx="837.5" cy="101.1" rx="13.6" ry="5.3" fill="rgb(137,137,137)" opacity="0.7"/>
<ellipse cx="817.8" cy="157.6" rx="4.1" ry="1.7" fill="#4a4a4a" opacity="0.8"/>
<ellipse cx="695.9" cy="155.1" rx="2.4" ry="2.4" fill="#4a4a4a" opacity="0.8"/>
<ellipse cx="737.8" cy="108.8" rx="3.9" ry="1.6" fill="#4a4a4a" opacity="0.8"/>
<ellipse cx="632.3" cy="126.6" rx="2.2" ry="1.6" fill="#4a4a4a" opacity="0.8"/>
<ellipse cx="793.5" cy="147.5" rx="4.6" ry="1.7" fill="#4a4a4a" opacity="0.8"/>
<ellipse cx="743.9" cy="116.9" rx="3.8" ry="2.2" fill="#4a4a4a" opacity="0.8"/>
<ellipse cx="918.8" cy="127.3" rx="2.2" ry="2.5" fill="#4a4a4a" opacity="0.8"/>
<ellipse cx="647.1" cy="140.4" rx="3.5" ry="2.9" fill="#4a4a4a" opacity="0.8"/>
<ellipse cx="786.4" cy="140.4" rx="2.8" ry="2.3" fill="#4a4a4a" opacity="0.8"/>
<ellipse cx="682.7" cy="145.5" rx="3.6" ry="1.7" fill="#4a4a4a" opacity="0.8"/>
<polygon points="587.0,158.0 610.0,150.0 630.0,156.0 650.0,144.0 670.0,150.0 690.0,140.0 700.0,146.0 716.0,140.0 740.0,150.0 760.0,146.0 780.0,154.0 800.0,150.0 820.0,158.0 840.0,152.0 860.0,160.0 880.0,156.0 900.0,168.0 920.0,162.0 943.0,170.0 943.0,254.0 587.0,254.0" fill="#6a6a6a" />
<polygon points="600.0,160.0 615.0,158.0 640.0,200.0 650.0,230.0 630.0,228.0 610.0,190.0" fill="#767676" />
<polygon points="640.0,165.0 660.0,160.0 700.0,170.0 705.0,220.0 680.0,230.0 655.0,210.0" fill="#646464" />
<polygon points="718.0,140.0 740.0,140.0 770.0,150.0 770.0,254.0 722.0,254.0 718.0,220.0" fill="#7e7e7e" />
<polygon points="722.0,150.0 730.0,150.0 745.0,230.0 735.0,240.0" fill="#929292" />
<polygon points="752.0,150.0 760.0,152.0 768.0,240.0 760.0,240.0" fill="#8c8c8c" />
<polygon points="606.0,232.0 640.0,228.0 670.0,232.0 700.0,240.0 704.0,254.0 600.0,254.0" fill="#888" />
<polygon points="841.0,215.0 870.0,222.0 893.0,240.0 893.0,254.0 841.0,254.0" fill="#7a7a7a" />
<polygon points="897.0,150.0 943.0,148.0 943.0,168.0 900.0,166.0" fill="#9a9a9a" />
</g>
<g filter="url(#b1)" fill="none">
<path d="M767,196 Q803.5,207.0 840,226" stroke="#7c7c7c" stroke-width="3"/>
<path d="M767,206 Q798.5,217.0 830,236" stroke="#5c5c5c" stroke-width="2"/>
<path d="M780,182 Q830.0,198.0 880,222" stroke="#5e5e5e" stroke-width="1.5"/>
<path d="M800,172 Q850.0,188.0 900,212" stroke="#7a7a7a" stroke-width="2.5"/>
<path d="M850,190 Q895.0,213.0 940,244" stroke="#5a5a5a" stroke-width="1.5"/>
<path d="M860,176 Q901.5,197.0 943,226" stroke="#767676" stroke-width="2.5"/>
<path d="M790,226 Q820.0,235.0 850,252" stroke="#7a7a7a" stroke-width="3"/>
<path d="M600,170 Q626.0,210.0 640,250" stroke="#7e7e7e" stroke-width="2.5"/>
<path d="M620,160 Q646.0,195.0 660,230" stroke="#5e5e5e" stroke-width="1.5"/>
<path d="M680,170 Q696.0,205.0 700,240" stroke="#727272" stroke-width="2"/>
</g>
</g>
</g>
<g filter="url(#b1)">
<path d="M640,114 L650,112 L652,124 L647,131 L639,126 Z" fill="#3a3a3a"/>
<path d="M707,146 L714,144 L716,154 L709,157 Z" fill="#3a3a3a"/>
<ellipse cx="592" cy="182" rx="3" ry="3" fill="#303030"/>
<ellipse cx="675.5" cy="238" rx="3.5" ry="5.5" fill="#e4e4e4"/>
<ellipse cx="910.5" cy="221" rx="3.5" ry="4" fill="#e0e0e0"/>
<ellipse cx="802" cy="225" rx="6" ry="3" fill="#a8a8a8"/>
</g>
<g filter="url(#texMo2)"><rect x="587" y="255" width="356" height="51" fill="url(#gMo2)"/></g>
<rect x="587" y="248" width="356" height="6" fill="#8e8e8e" filter="url(#b15)" opacity="0.5"/>
<rect x="587" y="305" width="356" height="10" fill="#383838"/>
</g>
<g stroke="#f0f0f0" stroke-width="1.3" stroke-dasharray="3 2" fill="none"><line x1="55" y1="232.4" x2="102" y2="232.4"/><line x1="55" y1="262.6" x2="102" y2="262.6"/><line x1="55" y1="286.3" x2="102" y2="286.3"/></g>
<text x="67.6" y="257.8" class="sl" style="font-size:16px;font-weight:normal;stroke:#f0f0f0;stroke-width:0.35" textLength="15" lengthAdjust="spacingAndGlyphs">In</text>
<text x="54.3" y="281.6" class="sl" style="font-size:16px;font-weight:normal;stroke:#f0f0f0;stroke-width:0.35" textLength="43.5" lengthAdjust="spacingAndGlyphs">CuGa</text>
<text x="64" y="307.8" class="sl" style="font-size:16px;font-weight:normal;stroke:#f0f0f0;stroke-width:0.35" textLength="23" lengthAdjust="spacingAndGlyphs">Mo</text>
<text x="17.2" y="59.3" class="sl" textLength="91" lengthAdjust="spacingAndGlyphs">Precursor</text>
<text x="198.9" y="56.5" class="sl" style="font-size:18.5px"><tspan textLength="109.5" lengthAdjust="spacingAndGlyphs">Cu(InGa)Se</tspan><tspan font-size="12.5" dy="4.3">2</tspan></text>
<text x="690.8" y="56.5" class="sl" style="font-size:18.5px"><tspan textLength="134.8" lengthAdjust="spacingAndGlyphs">Cu(InGa)(SeS)</tspan><tspan font-size="12.5" dy="4.3">2</tspan></text>
<g stroke="#f2f200" stroke-width="2.6" fill="none"><line x1="345.5" y1="258.2" x2="415" y2="258.2" stroke-dasharray="7.7 4.5"/><line x1="345.5" y1="296.8" x2="415" y2="296.8" stroke-dasharray="7.7 4.5"/><line x1="815.8" y1="256.5" x2="938" y2="256.5" stroke-dasharray="9.5 8.7"/><line x1="815.8" y1="298.2" x2="938" y2="298.2" stroke-dasharray="9.5 8.7"/></g>
<text x="351.8" y="286" class="ys" style="font-size:19px"><tspan textLength="51.8" lengthAdjust="spacingAndGlyphs">MoSe</tspan><tspan font-size="13" dy="4.5">2</tspan></text>
<text x="828.7" y="284" class="ys" style="font-size:18.5px"><tspan textLength="86" lengthAdjust="spacingAndGlyphs">Mo(Se,S)</tspan><tspan font-size="13.5" dx="1.5" dy="4.5">2</tspan></text>

<text x="176" y="17" class="tt" textLength="157" lengthAdjust="spacingAndGlyphs">(1) Selenization</text>
<text x="639" y="17" class="tt" textLength="212" lengthAdjust="spacingAndGlyphs">(2) Post-sulfurization</text>
<text x="481.6" y="151" class="tt" textLength="48.8" lengthAdjust="spacingAndGlyphs">Post-</text>
<text x="442.4" y="177.3" class="tt" textLength="126.3" lengthAdjust="spacingAndGlyphs">sulfurization</text>
<polygon points="449.2,199.1 550.9,199.1 550.9,189.3 570.4,208.9 550.9,228.4 550.9,218.7 449.2,218.7" fill="#ff0000"/>

<path d="M134.5,446.6 L134.5,475.5 L135.8,481.1 L141.0,489.3 L149.2,496.2 L160.1,497.5 L171.1,496.2 L184.8,493.4 L201.2,479.7 L212.2,464.7 L223.0,448.5 L223.0,446.6 Z" fill="url(#hatchR)" stroke="none"/><line x1="134.5" y1="446.6" x2="223" y2="446.6" stroke="#f08080" stroke-width="1" stroke-dasharray="1 1"/>
<line x1="328.3" y1="330" x2="328.3" y2="622" stroke="#6e6e6e" stroke-width="1.7" stroke-dasharray="2.5 4.5"/>
<clipPath id="clip133"><rect x="133.5" y="329.0" width="293.0" height="294.0"/></clipPath>
<g clip-path="url(#clip133)"><path d="M134.2,593.6 L135.8,582.0 L137.4,574.3 L139.0,571.5 L140.6,571.4 L142.2,571.8 L143.8,572.4 L145.4,575.1 L147.0,582.6 L148.6,584.5 L150.2,587.0 L151.8,588.5 L153.4,588.6 L155.0,589.6 L156.6,592.3 L158.2,592.0 L159.8,593.1 L161.4,594.9 L163.0,596.9 L164.6,597.7 L166.2,600.7 L167.8,603.1 L169.4,605.3 L171.0,604.2 L172.6,605.3 L174.2,603.5 L175.8,603.8 L177.4,604.2 L179.0,604.4 L180.6,602.9 L182.2,605.3 L183.8,608.2 L185.4,610.5 L187.0,607.5 L188.6,607.0 L190.2,606.9 L191.8,605.5 L193.4,606.1 L195.0,607.7 L196.6,611.5 L198.2,620.1 L199.8,620.4 L201.4,619.8 L203.0,619.7 L204.6,618.9 L206.2,615.4 L207.8,614.9 L209.4,615.1 L211.0,615.6 L212.6,619.5 L214.2,623.3 L215.8,621.3 L217.4,620.9 L219.0,623.4 L220.6,623.2 L222.2,623.5 L223.8,622.0 L225.4,623.4 L227.0,623.3 L228.6,621.5 L230.2,620.0 L231.8,617.5 L233.4,614.2 L235.0,610.8 L236.6,607.1 L238.2,604.0 L239.8,602.4 L241.4,600.7 L243.0,600.8 L244.6,598.7 L246.2,599.0 L247.8,595.9 L249.4,597.4 L251.0,598.5 L252.6,601.7 L254.2,605.6 L255.8,601.8 L257.4,593.6 L257.4,593.4" class="c" stroke="#4f74a8" stroke-width="1.35"/>
<path d="M257.4,593.4 L258.4,590.8 L259.4,588.3 L260.5,585.6 L261.5,582.5 L262.6,578.3 L263.7,573.2 L264.8,567.8 L265.9,562.5 L267.0,557.8 L268.0,554.0 L269.1,550.4 L270.1,547.0 L271.1,543.7 L272.1,540.5 L273.1,537.2 L274.2,533.9 L275.2,530.4 L276.2,526.8 L277.2,523.2 L278.2,519.4 L279.2,515.7 L280.2,511.9 L281.2,508.2 L282.2,504.5 L283.2,501.0 L284.2,497.6 L285.2,494.2 L286.2,490.8 L287.3,487.5 L288.3,484.2 L289.3,481.0 L290.3,477.9 L291.4,475.1 L292.4,472.4 L293.4,470.0 L294.4,467.8 L295.5,465.7 L296.5,463.8 L297.6,462.0 L298.6,460.2 L299.7,458.6 L300.8,456.9 L301.8,455.2 L302.8,453.4 L303.9,451.6 L304.9,449.7 L306.0,447.8 L307.0,445.8 L308.0,443.8 L309.1,441.8 L310.1,439.8 L311.1,437.8 L312.2,435.8 L313.2,433.8 L314.2,431.8 L315.3,429.9 L316.3,428.0 L317.3,426.2 L318.4,424.4 L319.4,422.7 L320.4,421.1 L321.4,419.4 L322.5,417.8 L323.5,416.3 L324.5,414.7 L325.5,413.2 L326.6,411.7 L327.6,410.3 L328.6,408.9 L329.6,407.5 L330.7,406.2 L331.7,405.0 L332.7,403.8 L333.7,402.6 L334.8,401.4 L335.8,400.3 L336.9,399.1 L337.9,398.0 L338.9,396.9 L340.0,395.8 L341.0,394.7 L342.1,393.8 L343.1,392.8 L344.1,392.0 L345.2,391.2 L346.2,390.5 L347.3,389.9 L348.3,389.4 L349.3,389.0 L350.4,388.5 L351.4,388.2 L352.4,387.8 L353.5,387.4 L354.5,387.1 L355.5,386.8 L356.6,386.5 L357.6,386.3 L358.6,386.0 L359.7,385.8 L360.7,385.6 L361.7,385.4 L362.8,385.2 L363.8,385.0 L364.8,384.8 L365.8,384.7 L366.8,384.6 L367.8,384.5 L368.8,384.3 L369.9,384.2 L370.9,384.1 L371.9,384.1 L372.9,384.0 L373.9,383.9 L374.9,383.8 L375.9,383.7 L376.9,383.6 L377.9,383.5 L378.9,383.5 L379.9,383.4 L381.0,383.3 L382.0,383.2 L383.0,383.1 L384.0,383.0 L385.0,382.8 L386.0,382.7 L387.0,382.5 L388.0,382.4 L389.0,382.2 L390.0,381.9 L391.0,381.7 L392.1,381.5 L393.1,381.2 L394.1,380.9 L395.1,380.7 L396.1,380.4 L397.1,380.1 L398.1,379.9 L399.1,379.6 L400.1,379.4 L401.1,379.1 L402.1,378.9 L403.2,378.8 L404.2,378.6 L405.2,378.5 L406.2,378.4 L407.2,378.3 L408.2,378.3 L409.2,378.3 L410.3,378.4 L411.3,378.4 L412.4,378.5 L413.4,378.6 L414.5,378.7 L415.5,378.8 L416.5,379.0 L417.6,379.1 L418.6,379.3 L419.7,379.4 L420.7,379.6 L421.8,379.7 L422.8,379.9 L423.9,380.0 L424.9,380.1" class="c" stroke="#4f74a8" stroke-width="1.45"/>
<path d="M134.2,351.7 L135.3,352.1 L136.3,352.5 L137.4,353.0 L138.5,353.5 L139.7,354.4 L140.9,355.4 L142.1,356.5 L143.3,357.2 L144.4,357.6 L145.5,358.0 L146.6,358.3 L147.8,358.6 L148.9,358.9 L150.0,359.1 L151.1,359.3 L152.2,359.4 L153.2,359.5 L154.2,359.6 L155.2,359.7 L156.2,359.7 L157.2,359.8 L158.3,359.9 L159.3,359.9 L160.3,360.0 L161.3,360.0 L162.3,360.1 L163.3,360.1 L164.3,360.2 L165.3,360.2 L166.3,360.3 L167.3,360.3 L168.3,360.3 L169.4,360.4 L170.4,360.4 L171.4,360.5 L172.4,360.5 L173.4,360.5 L174.4,360.6 L175.4,360.7 L176.4,360.7 L177.4,360.8 L178.5,360.8 L179.5,360.9 L180.5,360.9 L181.5,361.0 L182.5,361.0 L183.5,361.1 L184.5,361.1 L185.6,361.2 L186.6,361.2 L187.6,361.3 L188.6,361.3 L189.6,361.4 L190.6,361.4 L191.6,361.5 L192.6,361.5 L193.7,361.6 L194.7,361.6 L195.7,361.6 L196.7,361.7 L197.7,361.7 L198.7,361.8 L199.7,361.8 L200.7,361.9 L201.7,361.9 L202.8,362.0 L203.8,362.0 L204.8,362.1 L205.8,362.1 L206.8,362.2 L207.8,362.2 L208.8,362.3 L209.8,362.3 L210.8,362.3 L211.8,362.4 L212.8,362.4 L213.9,362.5 L214.9,362.6 L215.9,362.6 L216.9,362.7 L217.9,362.7 L218.9,362.8 L219.9,362.9 L220.9,362.9 L221.9,363.0 L222.9,363.1 L223.9,363.2 L225.0,363.2 L226.0,363.3 L227.0,363.4 L228.0,363.5 L229.0,363.6 L230.0,363.7 L231.0,363.8 L232.0,363.9 L233.0,364.0 L234.0,364.1 L235.0,364.2 L236.1,364.3 L237.1,364.4 L238.1,364.6 L239.1,364.7 L240.1,364.9 L241.1,365.0 L242.1,365.2 L243.1,365.3 L244.1,365.6 L245.1,365.8 L246.1,366.0 L247.2,366.3 L248.2,366.6 L249.2,366.9 L250.2,367.2 L251.2,367.5 L252.2,367.8 L253.2,368.1 L254.2,368.5 L255.2,368.8 L256.2,369.2 L257.2,369.6 L258.3,369.9 L259.3,370.3 L260.3,370.6 L261.3,371.0 L262.3,371.3 L263.3,371.7 L264.3,372.1 L265.4,372.4 L266.4,372.8 L267.5,373.2 L268.5,373.6 L269.6,374.0 L270.6,374.4 L271.6,374.8 L272.7,375.3 L273.7,375.7 L274.8,376.1 L275.8,376.5 L276.9,377.0 L277.9,377.4 L279.0,377.9 L280.0,378.3 L281.0,378.7 L282.0,379.2 L283.0,379.6 L284.0,380.0 L285.1,380.5 L286.1,380.9 L287.1,381.4 L288.1,381.9 L289.1,382.3 L290.1,382.8 L291.1,383.2 L292.1,383.7 L293.2,384.2 L294.2,384.7 L295.2,385.1 L296.2,385.6 L297.2,386.1 L298.2,386.6 L299.2,387.1 L300.2,387.6 L301.2,388.1 L302.2,388.5 L303.3,389.0 L304.3,389.6 L305.3,390.1 L306.3,390.6 L307.3,391.1 L308.3,391.6 L309.3,392.1 L310.3,392.6 L311.3,393.1 L312.3,393.6 L313.3,394.1 L314.4,394.7 L315.4,395.2 L316.4,395.7 L317.4,396.2 L318.4,396.7 L319.4,397.2 L320.4,397.7 L321.4,398.2 L322.5,398.7 L323.5,399.1 L324.5,399.6 L325.5,400.1 L326.6,400.6 L327.6,401.0 L328.6,401.5 L329.6,402.1 L330.7,402.6 L331.7,403.2 L332.7,403.8 L333.7,404.5 L334.8,405.2 L335.8,405.9 L336.9,406.6 L337.9,407.4 L339.0,408.3 L340.0,409.1 L341.1,410.0 L342.1,410.9 L343.2,411.8 L344.2,412.7 L345.3,413.6 L346.3,414.5 L347.4,415.5 L348.4,416.4 L349.5,417.4 L350.5,418.3 L351.5,419.2 L352.6,420.2 L353.6,421.2 L354.7,422.2 L355.7,423.2 L356.8,424.3 L357.8,425.3 L358.9,426.4 L359.9,427.5 L361.0,428.5 L362.0,429.6 L363.1,430.7 L364.1,431.7 L365.2,432.8 L366.2,433.9 L367.3,434.9 L368.3,436.0 L369.3,437.1 L370.4,438.1 L371.4,439.2 L372.5,440.4 L373.5,441.5 L374.5,442.6 L375.6,443.7 L376.6,444.9 L377.7,446.0 L378.7,447.1 L379.8,448.1 L380.8,449.2 L381.8,450.2 L382.9,451.2 L383.9,452.1 L385.0,453.0 L386.0,453.8 L387.0,454.6 L388.1,455.4 L389.1,456.1 L390.2,456.9 L391.2,457.6 L392.3,458.3 L393.3,459.0 L394.4,459.6 L395.4,460.3 L396.5,460.9 L397.5,461.5 L398.6,462.1 L399.6,462.7 L400.7,463.3 L401.7,463.8 L402.8,464.4 L403.8,464.9 L404.8,465.4 L405.8,465.9 L406.8,466.4 L407.8,466.8 L408.8,467.3 L409.8,467.7 L410.8,468.1 L411.8,468.5 L412.8,469.0 L413.8,469.4 L414.9,469.8 L415.9,470.2 L416.9,470.6 L417.9,471.0 L418.9,471.4 L419.9,471.8 L420.9,472.2 L421.9,472.6 L422.9,473.0 L423.9,473.4 L424.9,473.8" class="c" stroke="#2846d8"/>
<path d="M134.0,398.0 L135.2,389.4 L136.6,384.1 L138.0,381.0 L139.0,379.7 L140.1,378.7 L141.1,378.3 L142.2,378.5 L143.3,379.1 L144.4,380.0 L145.6,381.0 L146.7,382.0 L147.8,382.8 L148.9,383.6 L150.0,384.4 L151.1,385.2 L152.2,386.0 L153.4,386.8 L154.5,387.4 L155.6,387.9 L156.7,388.3 L157.7,388.5 L158.8,388.8 L159.8,389.0 L160.9,389.2 L161.9,389.4 L162.9,389.5 L164.0,389.7 L165.0,389.8 L166.1,390.0 L167.1,390.1 L168.2,390.2 L169.2,390.3 L170.2,390.4 L171.3,390.5 L172.3,390.5 L173.4,390.6 L174.4,390.6 L175.4,390.6 L176.4,390.7 L177.4,390.7 L178.4,390.7 L179.5,390.7 L180.5,390.8 L181.5,390.8 L182.5,390.8 L183.5,390.8 L184.5,390.8 L185.5,390.9 L186.5,390.9 L187.5,390.9 L188.6,390.9 L189.6,390.9 L190.6,391.0 L191.6,391.0 L192.6,391.0 L193.6,391.0 L194.6,391.0 L195.6,391.0 L196.7,391.1 L197.7,391.1 L198.7,391.1 L199.7,391.1 L200.7,391.1 L201.7,391.1 L202.7,391.1 L203.7,391.1 L204.7,391.1 L205.8,391.1 L206.8,391.2 L207.8,391.2 L208.8,391.2 L209.8,391.2 L210.8,391.2 L211.8,391.2 L212.8,391.2 L213.8,391.2 L214.9,391.2 L215.9,391.2 L216.9,391.2 L217.9,391.2 L218.9,391.2 L219.9,391.2 L220.9,391.2 L221.9,391.2 L222.9,391.2 L223.9,391.2 L224.9,391.2 L225.9,391.2 L226.9,391.2 L227.9,391.2 L228.9,391.2 L229.9,391.2 L230.9,391.2 L231.9,391.2 L232.9,391.2 L233.9,391.2 L234.9,391.2 L235.9,391.2 L236.9,391.2 L237.9,391.2 L238.9,391.2 L239.9,391.2 L241.0,391.2 L242.0,391.2 L243.0,391.2 L244.0,391.2 L245.0,391.2 L246.0,391.2 L247.0,391.2 L248.0,391.2 L249.0,391.2 L250.0,391.2 L251.0,391.2 L252.0,391.2 L253.0,391.2 L254.0,391.2 L255.0,391.2 L256.0,391.2 L257.0,391.2 L258.0,391.2 L259.0,391.2 L260.0,391.2 L261.0,391.2 L262.0,391.2 L263.0,391.2 L264.0,391.2 L265.0,391.3 L266.0,391.3 L267.0,391.4 L268.0,391.4 L269.0,391.5 L270.0,391.6 L271.0,391.6 L272.0,391.7 L273.0,391.8 L274.0,391.9 L275.0,392.0 L276.0,392.2 L277.0,392.3 L278.0,392.4 L279.0,392.5 L280.0,392.6 L281.0,392.7 L282.0,392.9 L283.0,393.0 L284.0,393.2 L285.1,393.4 L286.1,393.6 L287.1,393.8 L288.1,394.0 L289.1,394.2 L290.1,394.5 L291.1,394.7 L292.1,394.9 L293.2,395.2 L294.2,395.4 L295.2,395.6 L296.2,395.9 L297.2,396.1 L298.2,396.3 L299.2,396.6 L300.2,396.8 L301.2,397.1 L302.2,397.3 L303.3,397.6 L304.3,397.8 L305.3,398.1 L306.3,398.4 L307.3,398.7 L308.3,398.9 L309.3,399.2 L310.3,399.5 L311.3,399.7 L312.3,400.0 L313.3,400.2 L314.4,400.5 L315.4,400.7 L316.4,401.0 L317.4,401.2 L318.4,401.4 L319.4,401.6 L320.4,401.8 L321.4,402.0 L322.5,402.2 L323.5,402.4 L324.5,402.5 L325.5,402.7 L326.6,402.9 L327.6,403.0 L328.6,403.2 L329.6,403.4 L330.7,403.5 L331.7,403.7 L332.7,403.8 L333.7,403.9 L334.7,404.1 L335.7,404.2 L336.7,404.3 L337.7,404.4 L338.7,404.5 L339.7,404.7 L340.7,404.8 L341.7,404.9 L342.7,405.0 L343.7,405.1 L344.7,405.2 L345.7,405.3 L346.7,405.4 L347.7,405.5 L348.7,405.6 L349.7,405.7 L350.7,405.9 L351.7,406.0 L352.7,406.1 L353.7,406.2 L354.8,406.4 L355.8,406.5 L356.9,406.6 L357.9,406.7 L358.9,406.8 L360.0,407.0 L361.0,407.1 L362.1,407.2 L363.1,407.4 L364.1,407.5 L365.2,407.7 L366.2,407.9 L367.3,408.1 L368.3,408.3 L369.3,408.5 L370.4,408.8 L371.4,409.1 L372.5,409.5 L373.5,409.9 L374.5,410.3 L375.6,410.7 L376.6,411.2 L377.7,411.6 L378.7,412.1 L379.8,412.7 L380.8,413.2 L381.8,413.7 L382.9,414.3 L383.9,414.9 L385.0,415.4 L386.0,416.0 L387.0,416.6 L388.1,417.2 L389.1,417.9 L390.2,418.5 L391.2,419.2 L392.3,420.0 L393.3,420.7 L394.4,421.5 L395.4,422.3 L396.5,423.1 L397.5,423.9 L398.6,424.8 L399.6,425.7 L400.7,426.6 L401.7,427.5 L402.8,428.4 L403.8,429.4 L404.8,430.4 L405.8,431.5 L406.9,432.6 L407.9,433.8 L408.9,435.0 L409.9,436.3 L411.0,437.5 L412.0,438.8 L413.0,440.1 L414.0,441.4 L415.1,442.6 L416.1,443.8 L417.1,444.9 L418.2,446.1 L419.3,447.2 L420.4,448.3 L421.6,449.4 L422.7,450.5 L423.8,451.6 L424.9,452.7" class="c" stroke="#151515"/>
<path d="M134.2,388.3 L135.5,389.2 L136.7,390.0 L138.0,391.0 L139.1,391.9 L140.1,392.9 L141.2,394.0 L142.2,395.0 L143.3,396.1 L144.4,397.3 L145.5,398.5 L146.6,399.8 L147.8,401.1 L148.9,402.3 L150.0,403.4 L151.1,404.3 L152.2,405.0 L153.2,405.5 L154.2,405.9 L155.2,406.3 L156.2,406.6 L157.2,407.0 L158.3,407.3 L159.3,407.5 L160.3,407.8 L161.3,408.0 L162.3,408.2 L163.3,408.3 L164.3,408.4 L165.3,408.5 L166.3,408.7 L167.3,408.8 L168.4,408.9 L169.4,409.0 L170.4,409.1 L171.4,409.1 L172.4,409.2 L173.4,409.3 L174.4,409.4 L175.4,409.5 L176.5,409.5 L177.5,409.6 L178.5,409.7 L179.5,409.7 L180.5,409.8 L181.5,409.8 L182.5,409.9 L183.5,409.9 L184.6,410.0 L185.6,410.0 L186.6,410.1 L187.6,410.1 L188.6,410.2 L189.6,410.2 L190.6,410.3 L191.6,410.3 L192.7,410.4 L193.7,410.4 L194.7,410.5 L195.7,410.5 L196.7,410.6 L197.7,410.7 L198.7,410.7 L199.7,410.8 L200.7,410.8 L201.7,410.9 L202.8,411.0 L203.8,411.0 L204.8,411.1 L205.8,411.1 L206.8,411.2 L207.8,411.3 L208.8,411.3 L209.8,411.4 L210.8,411.4 L211.8,411.5 L212.8,411.5 L213.9,411.6 L214.9,411.7 L215.9,411.7 L216.9,411.8 L217.9,411.8 L218.9,411.8 L219.9,411.9 L220.9,411.9 L221.9,412.0 L222.9,412.0 L223.9,412.0 L225.0,412.0 L226.0,412.1 L227.0,412.1 L228.0,412.1 L229.0,412.1 L230.0,412.1 L231.0,412.1 L232.0,412.1 L233.0,412.1 L234.0,412.1 L235.0,412.1 L236.1,412.1 L237.1,412.1 L238.1,412.0 L239.1,412.0 L240.1,412.0 L241.1,412.0 L242.1,412.0 L243.1,411.9 L244.1,411.9 L245.1,411.9 L246.1,411.9 L247.2,411.8 L248.2,411.8 L249.2,411.8 L250.2,411.8 L251.2,411.7 L252.2,411.7 L253.2,411.7 L254.3,411.6 L255.3,411.6 L256.3,411.5 L257.4,411.4 L258.4,411.3 L259.4,411.3 L260.5,411.2 L261.5,411.1 L262.5,411.0 L263.6,410.8 L264.6,410.7 L265.6,410.6 L266.6,410.5 L267.7,410.4 L268.7,410.3 L269.7,410.1 L270.8,410.0 L271.8,409.9 L272.8,409.8 L273.9,409.6 L274.9,409.5 L275.9,409.4 L277.0,409.3 L278.0,409.2 L279.0,409.1 L280.0,409.0 L281.0,408.9 L282.0,408.8 L283.1,408.7 L284.1,408.6 L285.1,408.5 L286.1,408.4 L287.1,408.3 L288.1,408.2 L289.1,408.1 L290.1,408.0 L291.1,407.9 L292.1,407.8 L293.2,407.7 L294.2,407.6 L295.2,407.5 L296.2,407.3 L297.2,407.2 L298.2,407.1 L299.2,406.9 L300.2,406.8 L301.2,406.6 L302.2,406.5 L303.3,406.3 L304.3,406.2 L305.3,406.0 L306.3,405.8 L307.3,405.6 L308.3,405.5 L309.3,405.3 L310.3,405.1 L311.3,404.9 L312.3,404.7 L313.3,404.5 L314.4,404.3 L315.4,404.1 L316.4,403.9 L317.4,403.6 L318.4,403.4 L319.4,403.2 L320.4,403.0 L321.4,402.7 L322.5,402.5 L323.5,402.2 L324.5,402.0 L325.5,401.7 L326.6,401.4 L327.6,401.1 L328.6,400.8 L329.6,400.5 L330.7,400.1 L331.7,399.8 L332.7,399.4 L333.7,399.0 L334.8,398.5 L335.8,397.9 L336.9,397.4 L337.9,396.7 L338.9,396.1 L340.0,395.4 L341.0,394.8 L342.1,394.1 L343.1,393.4 L344.1,392.8 L345.2,392.1 L346.2,391.6 L347.3,391.0 L348.3,390.5 L349.3,390.0 L350.4,389.5 L351.4,389.1 L352.4,388.6 L353.5,388.1 L354.5,387.7 L355.5,387.2 L356.6,386.8 L357.6,386.4 L358.6,386.0 L359.7,385.6 L360.7,385.3 L361.7,385.0 L362.8,384.8 L363.8,384.6 L364.8,384.4 L365.8,384.3 L366.9,384.1 L367.9,383.9 L368.9,383.8 L369.9,383.6 L370.9,383.5 L371.9,383.4 L372.9,383.3 L374.0,383.3 L375.0,383.2 L376.0,383.2 L377.0,383.2 L378.0,383.3 L379.0,383.5 L380.0,383.7 L381.0,384.0 L382.0,384.2 L383.0,384.5 L384.0,384.9 L385.0,385.2 L386.0,385.6 L387.0,386.1 L388.0,386.7 L389.0,387.3 L390.0,388.0 L391.0,388.8 L392.0,389.5 L393.0,390.2 L394.0,391.0 L395.0,391.9 L396.0,392.8 L397.0,393.7 L398.0,394.6 L399.0,395.6 L400.0,396.5 L401.0,397.5 L402.1,398.5 L403.1,399.4 L404.1,400.5 L405.1,401.5 L406.1,402.6 L407.2,403.8 L408.2,405.0 L409.3,406.4 L410.4,408.0 L411.5,409.7 L412.6,411.4 L413.8,413.1 L414.9,414.9 L416.0,416.6 L417.1,418.3 L418.2,419.9 L419.3,421.5 L420.4,423.1 L421.6,424.7 L422.7,426.2 L423.8,427.8 L424.9,429.4" class="c" stroke="#2a8a2a"/>
<path d="M134.2,474.2 L135.8,481.1 L136.8,483.4 L137.9,485.3 L138.9,486.8 L140.0,488.1 L141.0,489.3 L142.0,490.5 L143.1,491.6 L144.1,492.7 L145.1,493.7 L146.1,494.6 L147.1,495.3 L148.2,495.9 L149.2,496.2 L150.3,496.4 L151.4,496.6 L152.5,496.8 L153.6,497.0 L154.6,497.1 L155.7,497.3 L156.8,497.4 L157.9,497.4 L159.0,497.5 L160.1,497.5 L161.1,497.5 L162.1,497.4 L163.1,497.4 L164.1,497.2 L165.1,497.1 L166.1,497.0 L167.1,496.8 L168.1,496.7 L169.1,496.5 L170.1,496.4 L171.1,496.2 L172.2,496.0 L173.2,495.9 L174.3,495.7 L175.3,495.6 L176.4,495.4 L177.4,495.2 L178.5,495.0 L179.5,494.8 L180.6,494.6 L181.6,494.3 L182.7,494.0 L183.7,493.7 L184.8,493.4 L185.8,493.0 L186.9,492.5 L187.9,492.0 L188.9,491.3 L189.9,490.6 L190.9,489.8 L192.0,489.0 L193.0,488.0 L194.0,487.1 L195.1,486.1 L196.1,485.1 L197.1,484.0 L198.1,483.0 L199.1,481.9 L200.2,480.8 L201.2,479.7 L202.2,478.6 L203.2,477.4 L204.2,476.1 L205.2,474.8 L206.2,473.4 L207.2,472.0 L208.2,470.5 L209.2,469.1 L210.2,467.6 L211.2,466.1 L212.2,464.7 L213.2,463.2 L214.2,461.8 L215.2,460.2 L216.2,458.7 L217.2,457.1 L218.2,455.6 L219.2,454.0 L220.2,452.5 L221.2,451.0 L222.2,449.6 L223.2,448.2 L224.3,446.8 L225.3,445.4 L226.4,444.0 L227.4,442.7 L228.5,441.4 L229.6,440.1 L230.6,438.8 L231.7,437.5 L232.8,436.2 L233.8,434.9 L234.9,433.6 L235.9,432.3 L237.0,431.0 L238.0,429.7 L239.0,428.4 L240.0,427.0 L241.1,425.6 L242.1,424.2 L243.1,422.8 L244.1,421.4 L245.1,420.0 L246.1,418.6 L247.1,417.3 L248.1,416.1 L249.2,414.9 L250.2,413.7 L251.2,412.7 L252.2,411.7 L253.2,410.8 L254.3,409.9 L255.3,409.0 L256.3,408.2 L257.4,407.4 L258.4,406.6 L259.5,405.8 L260.5,405.1 L261.5,404.3 L262.6,403.6 L263.6,402.9 L264.6,402.3 L265.7,401.6 L266.7,401.0 L267.7,400.3 L268.8,399.7 L269.8,399.1 L270.9,398.5 L271.9,397.9 L272.9,397.3 L274.0,396.7 L275.0,396.1 L276.0,395.5 L277.0,394.9 L278.1,394.4 L279.1,393.8 L280.1,393.3 L281.1,392.7 L282.2,392.2 L283.2,391.7 L284.2,391.2 L285.2,390.7 L286.3,390.2 L287.3,389.8 L288.3,389.4 L289.3,389.0 L290.4,388.6 L291.4,388.2 L292.5,387.8 L293.5,387.5 L294.5,387.1 L295.6,386.7 L296.6,386.4 L297.7,386.1 L298.7,385.8 L299.7,385.5 L300.8,385.2 L301.8,384.9 L302.9,384.7 L303.9,384.5 L304.9,384.3 L306.0,384.1 L307.0,383.9 L308.0,383.7 L309.1,383.5 L310.1,383.3 L311.1,383.1 L312.2,382.9 L313.2,382.8 L314.2,382.6 L315.3,382.5 L316.3,382.4 L317.3,382.4 L318.4,382.3 L319.4,382.3 L320.4,382.3 L321.4,382.3 L322.4,382.4 L323.4,382.4 L324.4,382.5 L325.5,382.6 L326.5,382.7 L327.5,382.8 L328.5,382.9 L329.5,383.1 L330.5,383.2 L331.5,383.4 L332.5,383.6 L333.5,384.0 L334.5,384.4 L335.5,384.8 L336.6,385.4 L337.6,385.9 L338.6,386.5 L339.6,387.1 L340.6,387.7 L341.6,388.3 L342.6,388.9 L343.6,389.7 L344.6,390.4 L345.6,391.3 L346.6,392.2 L347.7,393.1 L348.7,394.1 L349.7,395.1 L350.7,396.1 L351.7,397.2 L352.7,398.3 L353.7,399.4 L354.7,400.7 L355.7,402.0 L356.7,403.4 L357.7,404.8 L358.8,406.2 L359.8,407.7 L360.8,409.2 L361.8,410.8 L362.8,412.3 L363.8,413.8 L364.8,415.3 L365.8,417.0 L366.8,418.6 L367.8,420.3 L368.8,422.0 L369.9,423.7 L370.9,425.4 L371.9,427.1 L372.9,428.6 L373.9,430.2 L374.9,431.6 L375.9,433.0 L376.9,434.3 L377.9,435.6 L378.9,436.9 L379.9,438.2 L381.0,439.4 L382.0,440.6 L383.0,441.7 L384.0,442.8 L385.0,443.9 L386.0,444.9 L387.0,445.9 L388.1,446.9 L389.1,447.8 L390.1,448.7 L391.2,449.6 L392.2,450.5 L393.2,451.4 L394.2,452.2 L395.3,453.0 L396.3,453.8 L397.3,454.5 L398.4,455.3 L399.4,456.0 L400.4,456.7 L401.4,457.3 L402.5,458.0 L403.5,458.6 L404.5,459.2 L405.5,459.7 L406.6,460.3 L407.6,460.9 L408.6,461.4 L409.6,462.0 L410.7,462.6 L411.7,463.2 L412.7,463.8 L413.7,464.4 L414.7,465.1 L415.8,465.7 L416.8,466.4 L417.8,467.0 L418.8,467.7 L419.8,468.3 L420.8,469.0 L421.8,469.6 L422.9,470.3 L423.9,470.9 L424.9,471.6" class="c" stroke="#f01010"/></g>
<rect x="133.5" y="328.5" width="293.0" height="294.0" fill="none" stroke="#1c1c1c" stroke-width="2.2"/>
<line x1="129.5" y1="329.0" x2="133.5" y2="329.0" stroke="#1c1c1c" stroke-width="1.6"/>
<text x="127.2" y="333.8" text-anchor="end" class="tk" style="font-size:13px">10<tspan class="sup" dy="-5.2">6</tspan></text>
<line x1="129.5" y1="388.0" x2="133.5" y2="388.0" stroke="#1c1c1c" stroke-width="1.6"/>
<text x="127.2" y="392.8" text-anchor="end" class="tk" style="font-size:13px">10<tspan class="sup" dy="-5.2">5</tspan></text>
<line x1="129.5" y1="446.6" x2="133.5" y2="446.6" stroke="#1c1c1c" stroke-width="1.6"/>
<text x="127.2" y="451.40000000000003" text-anchor="end" class="tk" style="font-size:13px">10<tspan class="sup" dy="-5.2">4</tspan></text>
<line x1="129.5" y1="505.4" x2="133.5" y2="505.4" stroke="#1c1c1c" stroke-width="1.6"/>
<text x="127.2" y="510.2" text-anchor="end" class="tk" style="font-size:13px">10<tspan class="sup" dy="-5.2">3</tspan></text>
<line x1="129.5" y1="564.2" x2="133.5" y2="564.2" stroke="#1c1c1c" stroke-width="1.6"/>
<text x="127.2" y="569.0" text-anchor="end" class="tk" style="font-size:13px">10<tspan class="sup" dy="-5.2">2</tspan></text>
<line x1="129.5" y1="623.0" x2="133.5" y2="623.0" stroke="#1c1c1c" stroke-width="1.6"/>
<text x="127.2" y="627.8" text-anchor="end" class="tk" style="font-size:13px">10<tspan class="sup" dy="-5.2">1</tspan></text>
<line x1="133.5" y1="623.0" x2="133.5" y2="626.5" stroke="#1c1c1c" stroke-width="1.6"/>
<text x="133.5" y="644" text-anchor="middle" class="tk">0</text>
<line x1="188.8" y1="623.0" x2="188.8" y2="626.5" stroke="#1c1c1c" stroke-width="1.6"/>
<text x="188.8" y="644" text-anchor="middle" class="tk">500</text>
<line x1="244.1" y1="623.0" x2="244.1" y2="626.5" stroke="#1c1c1c" stroke-width="1.6"/>
<text x="244.1" y="644" text-anchor="middle" class="tk">1000</text>
<line x1="299.4" y1="623.0" x2="299.4" y2="626.5" stroke="#1c1c1c" stroke-width="1.6"/>
<text x="299.4" y="644" text-anchor="middle" class="tk">1500</text>
<line x1="354.7" y1="623.0" x2="354.7" y2="626.5" stroke="#1c1c1c" stroke-width="1.6"/>
<text x="354.7" y="644" text-anchor="middle" class="tk">2000</text>
<line x1="410.0" y1="623.0" x2="410.0" y2="626.5" stroke="#1c1c1c" stroke-width="1.6"/>
<text x="410.0" y="644" text-anchor="middle" class="tk">2500</text>
<text x="164.5" y="351.5" class="lb" fill="#3c3ce6" textLength="13.5" lengthAdjust="spacingAndGlyphs">In</text>
<text x="161.8" y="382.5" class="lbn" fill="#1a1a1a" textLength="19" lengthAdjust="spacingAndGlyphs">Cu</text>
<text x="162.3" y="426" class="lb" fill="#2a8a2a" textLength="18" lengthAdjust="spacingAndGlyphs">Se</text>
<text x="160.4" y="517.5" class="lb" fill="#e01818" style="font-size:18.5px" textLength="22" lengthAdjust="spacingAndGlyphs">Ga</text>
<text x="160.6" y="582.5" class="lbi" fill="#4c6ea4" textLength="21.5" lengthAdjust="spacingAndGlyphs">Mo</text>
<path d="M675.0,505.4 L675.0,505.7 L676.8,505.5 L679.0,506.5 L681.2,506.3 L683.4,506.9 L685.6,506.6 L687.8,508.3 L690.0,509.5 L692.2,509.6 L694.4,510.8 L696.6,511.5 L698.8,511.5 L701.0,513.8 L703.2,514.6 L705.4,515.2 L707.6,515.8 L709.8,518.4 L712.0,518.8 L714.2,520.3 L716.4,521.7 L718.6,522.5 L720.8,524.0 L723.0,524.3 L725.2,526.4 L727.4,527.1 L729.6,529.3 L731.8,530.6 L734.0,530.5 L736.2,532.3 L738.4,534.0 L740.6,537.0 L742.8,537.7 L745.0,538.9 L747.2,538.9 L749.4,539.7 L751.6,539.8 L753.8,539.6 L756.0,539.1 L758.2,538.1 L760.4,537.7 L762.6,536.1 L764.8,535.2 L767.0,533.8 L769.2,532.8 L771.4,530.9 L773.6,528.7 L775.8,528.7 L778.0,527.8 L780.2,526.6 L782.4,524.9 L784.6,523.0 L786.8,519.8 L789.0,518.7 L791.2,515.5 L793.4,511.9 L795.6,508.9 L797.8,508.8 L800.0,507.5 L801.0,506.0 L801.0,505.4 Z" fill="url(#hatchM)" stroke="none"/><line x1="652.6" y1="505.4" x2="801" y2="505.4" stroke="#e070e0" stroke-width="1" stroke-dasharray="1 1"/><path d="M652.6,446.6 L652.6,451.7 L656.9,453.4 L665.8,451.7 L674.7,447.2 L676.0,446.3 L676.0,446.6 Z" fill="#f6c4c4" stroke="none"/>
<line x1="843.4" y1="330" x2="843.4" y2="622" stroke="#6e6e6e" stroke-width="1.7" stroke-dasharray="2.5 4.5"/>
<clipPath id="clip651"><rect x="651.5" y="329.0" width="292.1" height="294.0"/></clipPath>
<g clip-path="url(#clip651)"><path d="M652.6,573.6 L654.2,576.3 L655.8,575.5 L657.4,576.6 L659.0,580.1 L660.6,583.0 L662.2,585.9 L663.8,592.1 L665.4,595.7 L667.0,593.8 L668.6,592.4 L670.2,593.1 L671.8,593.7 L673.4,596.1 L675.0,596.7 L676.6,599.6 L678.2,603.7 L679.8,604.8 L681.4,602.8 L683.0,604.1 L684.6,604.1 L686.2,604.9 L687.8,606.2 L689.4,605.2 L691.0,608.1 L692.6,609.9 L694.2,609.0 L695.8,610.8 L697.4,612.0 L699.0,613.8 L700.6,612.2 L702.2,610.4 L703.8,609.2 L705.4,608.2 L707.0,610.4 L708.6,611.9 L710.2,612.2 L711.8,612.4 L713.4,615.1 L715.0,616.3 L716.6,616.4 L718.2,620.4 L719.8,622.0 L721.4,622.0 L723.0,622.1 L724.6,621.2 L726.2,616.6 L727.8,620.3 L729.4,621.7 L731.0,622.1 L732.6,621.5 L734.2,622.6 L735.8,623.1 L737.4,622.2 L739.0,621.4 L740.6,621.7 L742.2,622.2 L743.8,622.8 L745.4,623.2 L747.0,622.2 L748.6,623.3 L750.2,622.8 L751.8,622.3 L753.4,620.8 L755.0,613.8 L756.6,612.4 L758.2,612.2 L759.2,612.7" class="c" stroke="#4f74a8" stroke-width="1.35"/>
<path d="M759.2,612.7 L760.4,604.3 L761.6,596.9 L762.7,592.1 L763.8,587.8 L764.8,584.0 L765.9,580.5 L767.0,577.2 L768.1,574.0 L769.1,570.8 L770.2,567.5 L771.3,564.1 L772.4,560.8 L773.5,557.6 L774.6,554.4 L775.6,551.2 L776.7,548.1 L777.8,544.9 L778.9,541.6 L780.0,538.2 L781.0,534.9 L782.1,531.4 L783.1,527.9 L784.2,524.4 L785.2,520.9 L786.3,517.3 L787.3,513.8 L788.3,510.3 L789.4,506.8 L790.4,503.3 L791.5,499.8 L792.5,496.3 L793.6,492.8 L794.6,489.3 L795.7,485.6 L796.8,481.9 L797.8,478.1 L798.9,474.5 L800.0,471.0 L801.0,467.8 L802.1,464.5 L803.1,461.4 L804.1,458.3 L805.2,455.3 L806.2,452.4 L807.3,449.7 L808.3,447.1 L809.3,444.7 L810.3,442.3 L811.4,440.0 L812.4,437.7 L813.4,435.5 L814.4,433.3 L815.5,431.2 L816.5,429.2 L817.5,427.3 L818.5,425.5 L819.6,423.7 L820.6,422.1 L821.6,420.5 L822.6,419.0 L823.6,417.6 L824.7,416.3 L825.7,415.0 L826.7,413.8 L827.7,412.6 L828.7,411.5 L829.7,410.4 L830.8,409.3 L831.8,408.2 L832.8,407.2 L833.9,406.1 L835.0,405.0 L836.1,403.9 L837.2,402.8 L838.3,401.8 L839.4,400.9 L840.5,399.9 L841.6,399.1 L842.7,398.3 L843.7,397.6 L844.8,396.9 L845.8,396.3 L846.8,395.6 L847.9,395.0 L848.9,394.4 L850.0,393.8 L851.0,393.3 L852.0,392.8 L853.1,392.3 L854.1,391.8 L855.1,391.3 L856.2,390.9 L857.2,390.5 L858.2,390.1 L859.3,389.7 L860.3,389.4 L861.3,389.0 L862.4,388.7 L863.4,388.4 L864.4,388.0 L865.5,387.7 L866.5,387.4 L867.5,387.2 L868.6,386.9 L869.6,386.7 L870.6,386.5 L871.7,386.3 L872.7,386.1 L873.7,385.9 L874.7,385.8 L875.7,385.6 L876.7,385.5 L877.7,385.4 L878.8,385.2 L879.8,385.1 L880.8,385.0 L881.8,384.9 L882.8,384.7 L883.8,384.6 L884.8,384.5 L885.8,384.4 L886.8,384.3 L887.8,384.3 L888.8,384.2 L889.9,384.1 L890.9,384.0 L891.9,384.0 L892.9,383.9 L893.9,383.8 L894.9,383.8 L895.9,383.8 L896.9,383.7 L897.9,383.7 L898.9,383.6 L899.9,383.6 L901.0,383.6 L902.0,383.6 L903.0,383.5 L904.0,383.5 L905.0,383.5 L906.0,383.5 L907.0,383.4 L908.0,383.4 L909.0,383.4 L910.0,383.4 L911.0,383.4 L912.1,383.3 L913.1,383.3 L914.1,383.3 L915.1,383.3 L916.1,383.2 L917.1,383.2 L918.1,383.2 L919.1,383.1 L920.1,383.1 L921.1,383.1 L922.1,383.0 L923.1,383.0 L924.2,383.0 L925.2,382.9 L926.2,382.9 L927.2,382.9 L928.2,382.8 L929.2,382.8 L930.2,382.8 L931.2,382.7 L932.2,382.7 L933.2,382.7 L934.2,382.6 L935.2,382.6 L936.2,382.5 L937.3,382.5 L938.3,382.5 L939.3,382.4 L940.3,382.4 L941.3,382.4 L942.3,382.3 L943.3,382.3" class="c" stroke="#4f74a8" stroke-width="1.45"/>
<path d="M652.6,472.9 L654.8,484.1 L657.0,486.4 L659.2,489.5 L661.4,491.9 L663.6,493.2 L665.8,495.3 L668.0,499.0 L670.2,500.1 L672.4,502.3 L674.6,505.8 L676.8,505.5 L679.0,506.5 L681.2,506.3 L683.4,506.9 L685.6,506.6 L687.8,508.3 L690.0,509.5 L692.2,509.6 L694.4,510.8 L696.6,511.5 L698.8,511.5 L701.0,513.8 L703.2,514.6 L705.4,515.2 L707.6,515.8 L709.8,518.4 L712.0,518.8 L714.2,520.3 L716.4,521.7 L718.6,522.5 L720.8,524.0 L723.0,524.3 L725.2,526.4 L727.4,527.1 L729.6,529.3 L731.8,530.6 L734.0,530.5 L736.2,532.3 L738.4,534.0 L740.6,537.0 L742.8,537.7 L745.0,538.9 L747.2,538.9 L749.4,539.7 L751.6,539.8 L753.8,539.6 L756.0,539.1 L758.2,538.1 L760.4,537.7 L762.6,536.1 L764.8,535.2 L767.0,533.8 L769.2,532.8 L771.4,530.9 L773.6,528.7 L775.8,528.7 L778.0,527.8 L780.2,526.6 L782.4,524.9 L784.6,523.0 L786.8,519.8 L789.0,518.7 L791.2,515.5 L793.4,511.9 L795.6,508.9 L797.8,508.8 L800.0,507.5 L802.2,504.3 L804.4,504.0 L806.6,501.8 L808.8,499.4 L811.0,497.7 L813.2,496.6 L815.4,494.8 L817.6,491.3 L819.8,490.4 L822.0,487.9 L824.2,487.5 L826.4,485.3 L828.6,484.8 L830.8,483.4 L833.0,481.4 L835.2,481.3 L837.4,479.1 L839.6,477.7 L841.8,477.7 L844.0,475.8 L846.2,475.9 L848.4,476.2 L850.6,476.4 L852.8,475.5 L855.0,475.1 L857.2,476.6 L859.4,475.8 L861.6,477.0 L863.8,477.1 L866.0,476.2 L868.2,476.5 L870.4,477.1 L872.6,477.7 L874.8,478.1 L877.0,478.5 L879.2,479.0 L881.4,480.2 L883.6,480.2 L885.8,480.8 L888.0,482.0 L890.2,481.9 L892.4,482.7 L894.6,484.4 L896.8,484.1 L899.0,484.6 L901.2,484.1 L903.4,485.2 L905.6,486.0 L907.8,485.6 L910.0,487.2 L912.2,487.8 L914.4,487.3 L916.6,488.9 L918.8,489.1 L921.0,490.1 L923.2,490.0 L925.4,491.2 L927.6,491.8 L929.8,491.1 L932.0,492.2 L934.2,494.3 L936.4,495.8 L938.6,495.5 L940.8,496.9 L942.8,497.9" class="c" stroke="#d21ad2" stroke-width="2.2"/>
<path d="M652.6,358.3 L653.7,358.4 L654.8,358.5 L655.8,358.6 L656.9,358.8 L658.0,359.1 L659.1,359.7 L660.2,360.3 L661.3,361.1 L662.5,361.8 L663.6,362.4 L664.7,362.9 L665.8,363.2 L666.8,363.3 L667.8,363.4 L668.9,363.5 L669.9,363.6 L670.9,363.7 L671.9,363.8 L673.0,363.8 L674.0,363.9 L675.0,364.0 L676.0,364.0 L677.1,364.1 L678.1,364.1 L679.1,364.2 L680.1,364.2 L681.1,364.3 L682.2,364.3 L683.2,364.3 L684.2,364.4 L685.2,364.4 L686.3,364.4 L687.3,364.5 L688.3,364.5 L689.3,364.5 L690.4,364.5 L691.4,364.6 L692.4,364.6 L693.4,364.6 L694.4,364.6 L695.4,364.7 L696.5,364.7 L697.5,364.7 L698.5,364.7 L699.5,364.7 L700.5,364.7 L701.5,364.8 L702.5,364.8 L703.5,364.8 L704.6,364.8 L705.6,364.8 L706.6,364.8 L707.6,364.8 L708.6,364.9 L709.6,364.9 L710.6,364.9 L711.7,364.9 L712.7,364.9 L713.7,365.0 L714.7,365.0 L715.7,365.0 L716.7,365.1 L717.7,365.1 L718.7,365.2 L719.7,365.3 L720.8,365.4 L721.8,365.4 L722.8,365.5 L723.8,365.6 L724.8,365.7 L725.8,365.9 L726.8,366.0 L727.8,366.1 L728.8,366.2 L729.8,366.3 L730.8,366.4 L731.9,366.6 L732.9,366.7 L733.9,366.8 L734.9,367.0 L735.9,367.1 L736.9,367.2 L737.9,367.3 L738.9,367.5 L739.9,367.6 L740.9,367.7 L741.9,367.9 L743.0,368.0 L744.0,368.2 L745.0,368.3 L746.0,368.5 L747.0,368.7 L748.0,368.8 L749.0,369.0 L750.0,369.1 L751.0,369.3 L752.0,369.5 L753.0,369.6 L754.1,369.8 L755.1,370.0 L756.1,370.1 L757.1,370.3 L758.1,370.4 L759.1,370.6 L760.1,370.8 L761.1,370.9 L762.1,371.1 L763.1,371.2 L764.1,371.3 L765.2,371.5 L766.2,371.6 L767.2,371.8 L768.2,371.9 L769.2,372.1 L770.2,372.2 L771.2,372.4 L772.2,372.5 L773.2,372.7 L774.2,372.8 L775.2,373.0 L776.3,373.1 L777.3,373.3 L778.3,373.4 L779.3,373.6 L780.3,373.7 L781.3,373.9 L782.3,374.1 L783.4,374.2 L784.4,374.4 L785.5,374.6 L786.5,374.7 L787.6,374.9 L788.6,375.1 L789.7,375.2 L790.7,375.4 L791.8,375.6 L792.8,375.8 L793.9,375.9 L794.9,376.1 L796.0,376.3 L797.0,376.5 L798.0,376.7 L799.0,376.9 L800.0,377.0 L801.0,377.2 L802.0,377.4 L803.1,377.5 L804.1,377.7 L805.1,377.9 L806.1,378.0 L807.1,378.2 L808.1,378.4 L809.1,378.6 L810.1,378.8 L811.1,379.0 L812.2,379.2 L813.2,379.4 L814.2,379.7 L815.2,379.9 L816.2,380.2 L817.2,380.5 L818.2,380.8 L819.2,381.2 L820.3,381.6 L821.3,382.0 L822.3,382.5 L823.3,383.0 L824.4,383.6 L825.4,384.1 L826.4,384.7 L827.4,385.3 L828.5,385.9 L829.5,386.6 L830.5,387.2 L831.5,387.9 L832.5,388.6 L833.5,389.4 L834.6,390.2 L835.6,391.0 L836.6,391.9 L837.6,392.8 L838.6,393.7 L839.7,394.6 L840.7,395.5 L841.7,396.3 L842.7,397.2 L843.7,398.1 L844.8,398.9 L845.8,399.8 L846.8,400.6 L847.9,401.4 L848.9,402.3 L850.0,403.1 L851.0,404.0 L852.0,404.9 L853.1,405.7 L854.1,406.6 L855.1,407.5 L856.2,408.5 L857.2,409.4 L858.2,410.4 L859.3,411.3 L860.3,412.3 L861.3,413.4 L862.4,414.4 L863.4,415.4 L864.4,416.5 L865.5,417.6 L866.5,418.6 L867.5,419.7 L868.6,420.8 L869.6,421.8 L870.6,422.9 L871.7,424.0 L872.7,425.0 L873.7,426.0 L874.8,427.1 L875.8,428.2 L876.9,429.3 L877.9,430.3 L878.9,431.4 L880.0,432.5 L881.0,433.6 L882.1,434.6 L883.1,435.7 L884.1,436.7 L885.2,437.7 L886.2,438.6 L887.3,439.6 L888.3,440.5 L889.3,441.4 L890.4,442.3 L891.4,443.2 L892.5,444.0 L893.5,444.9 L894.5,445.8 L895.6,446.6 L896.6,447.4 L897.7,448.2 L898.7,449.0 L899.8,449.8 L900.8,450.5 L901.8,451.2 L902.9,451.9 L903.9,452.6 L905.0,453.2 L906.0,453.8 L907.0,454.4 L908.1,454.9 L909.1,455.4 L910.2,455.9 L911.2,456.4 L912.3,456.8 L913.3,457.2 L914.4,457.7 L915.4,458.1 L916.5,458.5 L917.5,458.9 L918.6,459.3 L919.6,459.8 L920.7,460.2 L921.7,460.7 L922.8,461.1 L923.8,461.6 L924.8,462.1 L925.9,462.6 L926.9,463.1 L927.9,463.6 L928.9,464.1 L930.0,464.6 L931.0,465.2 L932.0,465.7 L933.0,466.2 L934.1,466.8 L935.1,467.3 L936.1,467.8 L937.1,468.4 L938.2,468.9 L939.2,469.5 L940.2,470.0 L941.2,470.5 L942.3,471.1 L943.3,471.6" class="c" stroke="#2846d8"/>
<path d="M652.2,398.3 L652.8,387.2 L653.8,384.0 L654.8,382.0 L655.9,380.9 L656.9,380.6 L658.0,380.7 L659.1,381.0 L660.2,381.3 L661.3,381.7 L662.4,382.2 L663.5,383.0 L664.6,383.9 L665.8,384.9 L666.9,385.9 L668.0,386.9 L669.1,387.7 L670.2,388.3 L671.3,388.8 L672.4,389.2 L673.5,389.7 L674.7,390.1 L675.8,390.4 L676.9,390.7 L678.0,390.9 L679.1,391.0 L680.1,391.0 L681.1,391.1 L682.2,391.1 L683.2,391.2 L684.2,391.2 L685.2,391.2 L686.2,391.3 L687.2,391.3 L688.3,391.3 L689.3,391.4 L690.3,391.4 L691.3,391.4 L692.3,391.5 L693.3,391.5 L694.4,391.5 L695.4,391.5 L696.4,391.5 L697.4,391.6 L698.4,391.6 L699.4,391.6 L700.5,391.6 L701.5,391.6 L702.5,391.6 L703.5,391.6 L704.5,391.7 L705.5,391.7 L706.6,391.7 L707.6,391.7 L708.6,391.7 L709.6,391.7 L710.6,391.7 L711.6,391.7 L712.7,391.7 L713.7,391.7 L714.7,391.7 L715.7,391.7 L716.7,391.7 L717.7,391.7 L718.7,391.7 L719.7,391.7 L720.7,391.7 L721.7,391.7 L722.7,391.7 L723.7,391.7 L724.7,391.7 L725.7,391.7 L726.7,391.7 L727.7,391.7 L728.8,391.7 L729.8,391.7 L730.8,391.7 L731.8,391.7 L732.8,391.7 L733.8,391.7 L734.8,391.7 L735.8,391.7 L736.8,391.7 L737.8,391.7 L738.8,391.7 L739.8,391.7 L740.8,391.7 L741.8,391.7 L742.8,391.7 L743.8,391.7 L744.8,391.7 L745.8,391.7 L746.8,391.7 L747.8,391.7 L748.8,391.7 L749.8,391.7 L750.8,391.7 L751.8,391.7 L752.8,391.7 L753.8,391.7 L754.9,391.6 L755.9,391.6 L756.9,391.6 L757.9,391.6 L758.9,391.6 L759.9,391.6 L760.9,391.6 L761.9,391.6 L762.9,391.6 L763.9,391.6 L764.9,391.6 L765.9,391.6 L766.9,391.6 L767.9,391.6 L768.9,391.6 L769.9,391.6 L770.9,391.6 L771.9,391.6 L772.9,391.6 L773.9,391.6 L774.9,391.6 L775.9,391.6 L776.9,391.6 L777.9,391.6 L778.9,391.6 L779.9,391.6 L780.9,391.6 L782.0,391.6 L783.0,391.6 L784.0,391.6 L785.0,391.6 L786.0,391.6 L787.0,391.6 L788.0,391.6 L789.0,391.6 L790.0,391.6 L791.0,391.6 L792.0,391.6 L793.0,391.6 L794.0,391.6 L795.0,391.6 L796.0,391.6 L797.0,391.7 L798.0,391.7 L799.0,391.8 L800.0,391.9 L801.1,392.0 L802.1,392.1 L803.1,392.3 L804.1,392.5 L805.1,392.6 L806.1,392.8 L807.1,393.0 L808.1,393.2 L809.1,393.4 L810.1,393.6 L811.1,393.8 L812.2,394.0 L813.2,394.2 L814.2,394.4 L815.2,394.6 L816.2,394.8 L817.2,395.0 L818.2,395.2 L819.2,395.4 L820.3,395.5 L821.3,395.7 L822.3,395.9 L823.3,396.1 L824.3,396.3 L825.4,396.4 L826.4,396.6 L827.4,396.8 L828.4,397.0 L829.4,397.2 L830.5,397.4 L831.5,397.6 L832.5,397.8 L833.5,398.0 L834.5,398.2 L835.6,398.5 L836.6,398.7 L837.6,398.9 L838.6,399.1 L839.6,399.4 L840.7,399.6 L841.7,399.8 L842.7,400.1 L843.8,400.4 L844.8,400.6 L845.9,400.9 L846.9,401.2 L848.0,401.6 L849.0,401.9 L850.1,402.2 L851.1,402.6 L852.2,402.9 L853.2,403.3 L854.2,403.6 L855.3,404.0 L856.4,404.3 L857.4,404.7 L858.5,405.0 L859.5,405.4 L860.6,405.8 L861.6,406.1 L862.6,406.4 L863.6,406.8 L864.6,407.1 L865.6,407.5 L866.6,407.8 L867.7,408.1 L868.7,408.5 L869.7,408.8 L870.7,409.2 L871.7,409.5 L872.7,409.9 L873.7,410.3 L874.7,410.6 L875.7,411.0 L876.7,411.3 L877.7,411.7 L878.8,412.0 L879.8,412.4 L880.8,412.7 L881.8,413.1 L882.8,413.4 L883.8,413.8 L884.8,414.2 L885.8,414.5 L886.8,414.9 L887.8,415.2 L888.8,415.6 L889.9,416.0 L890.9,416.4 L891.9,416.7 L892.9,417.1 L893.9,417.5 L894.9,417.9 L895.9,418.2 L896.9,418.6 L897.9,419.0 L898.9,419.3 L899.9,419.7 L901.0,420.0 L902.0,420.4 L903.0,420.7 L904.0,421.0 L905.0,421.3 L906.0,421.6 L907.0,421.9 L908.1,422.2 L909.1,422.5 L910.2,422.7 L911.2,423.0 L912.3,423.2 L913.3,423.5 L914.4,423.7 L915.4,424.0 L916.5,424.2 L917.5,424.5 L918.6,424.7 L919.6,425.0 L920.7,425.2 L921.7,425.5 L922.8,425.7 L923.8,426.0 L924.8,426.3 L925.9,426.6 L926.9,426.8 L927.9,427.1 L928.9,427.4 L930.0,427.7 L931.0,428.0 L932.0,428.3 L933.0,428.6 L934.1,428.9 L935.1,429.2 L936.1,429.5 L937.1,429.8 L938.2,430.1 L939.2,430.4 L940.2,430.7 L941.2,431.0 L942.3,431.3 L943.3,431.6" class="c" stroke="#151515"/>
<path d="M652.6,407.2 L653.7,406.3 L654.7,405.4 L655.8,405.0 L656.9,405.4 L658.0,406.5 L659.1,407.9 L660.2,409.4 L661.3,410.6 L662.4,411.7 L663.5,412.9 L664.6,414.1 L665.8,415.3 L666.9,416.4 L668.0,417.3 L669.1,417.9 L670.2,418.3 L671.2,418.5 L672.2,418.6 L673.2,418.8 L674.2,418.9 L675.2,419.1 L676.3,419.2 L677.3,419.2 L678.3,419.3 L679.3,419.4 L680.3,419.4 L681.3,419.4 L682.3,419.4 L683.3,419.4 L684.3,419.3 L685.3,419.3 L686.4,419.3 L687.4,419.2 L688.4,419.1 L689.4,419.1 L690.4,419.0 L691.4,418.9 L692.4,418.8 L693.4,418.7 L694.5,418.6 L695.5,418.5 L696.5,418.3 L697.5,418.2 L698.5,418.1 L699.5,418.0 L700.5,417.8 L701.5,417.7 L702.6,417.6 L703.6,417.4 L704.6,417.3 L705.6,417.2 L706.6,417.0 L707.6,416.9 L708.6,416.8 L709.6,416.7 L710.7,416.5 L711.7,416.4 L712.7,416.3 L713.7,416.2 L714.7,416.1 L715.7,416.0 L716.7,415.9 L717.7,415.8 L718.7,415.6 L719.7,415.5 L720.8,415.4 L721.8,415.2 L722.8,415.1 L723.8,415.0 L724.8,414.9 L725.8,414.7 L726.8,414.6 L727.8,414.5 L728.8,414.4 L729.8,414.3 L730.8,414.2 L731.9,414.1 L732.9,414.0 L733.9,414.0 L734.9,413.9 L735.9,413.9 L736.9,413.9 L737.9,413.9 L738.9,413.9 L739.9,413.9 L740.9,413.9 L741.9,413.9 L743.0,413.9 L744.0,413.9 L745.0,413.9 L746.0,413.9 L747.0,413.9 L748.0,413.9 L749.0,413.9 L750.0,413.9 L751.0,413.9 L752.0,413.9 L753.0,413.9 L754.1,413.9 L755.1,413.9 L756.1,413.9 L757.1,413.9 L758.1,413.9 L759.1,413.9 L760.1,413.9 L761.1,413.9 L762.1,414.0 L763.1,414.0 L764.1,414.1 L765.2,414.2 L766.2,414.3 L767.2,414.4 L768.2,414.5 L769.2,414.6 L770.2,414.7 L771.2,414.8 L772.2,414.9 L773.2,415.1 L774.2,415.2 L775.2,415.3 L776.3,415.4 L777.3,415.5 L778.3,415.5 L779.3,415.6 L780.3,415.7 L781.3,415.7 L782.4,415.7 L783.4,415.8 L784.5,415.8 L785.5,415.8 L786.6,415.9 L787.6,415.9 L788.7,415.9 L789.7,415.9 L790.8,416.0 L791.8,416.0 L792.9,416.0 L793.9,416.0 L795.0,416.0 L796.0,416.0 L797.0,416.0 L798.0,415.9 L799.0,415.8 L800.0,415.7 L801.1,415.6 L802.1,415.5 L803.1,415.4 L804.1,415.2 L805.1,415.1 L806.1,414.9 L807.1,414.7 L808.1,414.4 L809.1,414.1 L810.1,413.7 L811.1,413.3 L812.2,412.9 L813.2,412.4 L814.2,411.9 L815.2,411.4 L816.2,411.0 L817.2,410.5 L818.2,410.0 L819.2,409.6 L820.3,409.1 L821.3,408.5 L822.3,408.0 L823.3,407.5 L824.4,406.9 L825.4,406.4 L826.4,405.9 L827.4,405.3 L828.5,404.8 L829.5,404.3 L830.5,403.8 L831.5,403.3 L832.5,402.9 L833.5,402.4 L834.6,401.9 L835.6,401.5 L836.6,401.0 L837.6,400.6 L838.6,400.1 L839.7,399.7 L840.7,399.2 L841.7,398.8 L842.7,398.3 L843.7,397.8 L844.8,397.3 L845.8,396.8 L846.8,396.3 L847.9,395.8 L848.9,395.3 L850.0,394.8 L851.0,394.3 L852.0,393.8 L853.1,393.3 L854.1,392.8 L855.1,392.4 L856.2,392.0 L857.2,391.6 L858.2,391.2 L859.3,390.9 L860.3,390.5 L861.3,390.1 L862.4,389.8 L863.4,389.4 L864.4,389.1 L865.5,388.7 L866.5,388.4 L867.5,388.1 L868.6,387.9 L869.6,387.7 L870.6,387.5 L871.7,387.3 L872.7,387.2 L873.7,387.1 L874.7,387.0 L875.7,386.9 L876.7,386.9 L877.7,386.8 L878.8,386.7 L879.8,386.6 L880.8,386.6 L881.8,386.5 L882.8,386.5 L883.8,386.4 L884.8,386.4 L885.8,386.3 L886.8,386.3 L887.8,386.2 L888.8,386.2 L889.9,386.2 L890.9,386.1 L891.9,386.1 L892.9,386.1 L893.9,386.1 L894.9,386.1 L895.9,386.1 L896.9,386.1 L897.9,386.1 L898.9,386.1 L899.9,386.1 L901.0,386.2 L902.0,386.2 L903.0,386.2 L904.0,386.2 L905.0,386.2 L906.0,386.3 L907.0,386.3 L908.0,386.3 L909.0,386.4 L910.0,386.4 L911.0,386.4 L912.1,386.5 L913.1,386.5 L914.1,386.6 L915.1,386.6 L916.1,386.7 L917.1,386.7 L918.1,386.8 L919.2,386.8 L920.2,386.9 L921.3,387.0 L922.3,387.2 L923.3,387.3 L924.4,387.5 L925.4,387.6 L926.5,387.8 L927.5,388.0 L928.5,388.2 L929.6,388.4 L930.6,388.6 L931.7,388.8 L932.7,389.0 L933.8,389.2 L934.8,389.5 L935.9,389.8 L936.9,390.1 L938.0,390.4 L939.1,390.8 L940.1,391.1 L941.2,391.4 L942.2,391.8 L943.3,392.1" class="c" stroke="#2a8a2a"/>
<path d="M652.6,451.7 L653.7,452.2 L654.8,452.8 L655.8,453.2 L656.9,453.4 L658.0,453.4 L659.1,453.3 L660.2,453.1 L661.3,452.9 L662.5,452.6 L663.6,452.3 L664.7,452.0 L665.8,451.7 L666.9,451.3 L668.0,450.9 L669.1,450.4 L670.2,449.8 L671.4,449.2 L672.5,448.5 L673.6,447.8 L674.7,447.2 L675.7,446.6 L676.7,446.0 L677.8,445.3 L678.8,444.7 L679.8,444.0 L680.8,443.3 L681.9,442.6 L682.9,441.9 L683.9,441.2 L684.9,440.4 L686.0,439.7 L687.0,439.0 L688.0,438.3 L689.0,437.6 L690.1,436.8 L691.1,436.0 L692.2,435.3 L693.2,434.5 L694.2,433.7 L695.3,432.9 L696.3,432.1 L697.4,431.3 L698.4,430.6 L699.4,429.8 L700.5,429.1 L701.5,428.4 L702.6,427.8 L703.6,427.2 L704.6,426.6 L705.6,426.1 L706.6,425.6 L707.6,425.1 L708.6,424.6 L709.7,424.1 L710.7,423.6 L711.7,423.1 L712.7,422.6 L713.7,422.2 L714.7,421.7 L715.7,421.3 L716.7,420.9 L717.7,420.5 L718.7,420.0 L719.7,419.6 L720.8,419.2 L721.8,418.8 L722.8,418.4 L723.8,418.0 L724.8,417.6 L725.8,417.2 L726.8,416.8 L727.8,416.4 L728.8,416.0 L729.8,415.7 L730.8,415.3 L731.9,414.9 L732.9,414.6 L733.9,414.2 L734.9,413.9 L735.9,413.5 L736.9,413.2 L737.9,412.8 L738.9,412.5 L739.9,412.1 L740.9,411.8 L741.9,411.5 L743.0,411.1 L744.0,410.8 L745.0,410.4 L746.0,410.1 L747.0,409.8 L748.0,409.4 L749.0,409.0 L750.0,408.7 L751.0,408.3 L752.0,408.0 L753.0,407.6 L754.1,407.2 L755.1,406.9 L756.1,406.5 L757.1,406.1 L758.1,405.8 L759.1,405.4 L760.1,405.1 L761.1,404.7 L762.1,404.4 L763.1,404.0 L764.1,403.7 L765.2,403.3 L766.2,403.0 L767.2,402.7 L768.2,402.3 L769.2,402.0 L770.2,401.7 L771.2,401.4 L772.3,401.1 L773.3,400.8 L774.3,400.5 L775.4,400.2 L776.4,399.9 L777.4,399.6 L778.5,399.3 L779.5,399.0 L780.5,398.7 L781.6,398.4 L782.6,398.1 L783.6,397.9 L784.7,397.6 L785.7,397.3 L786.7,397.0 L787.8,396.8 L788.8,396.5 L789.8,396.3 L790.9,396.0 L791.9,395.7 L792.9,395.5 L794.0,395.2 L795.0,395.0 L796.0,394.7 L797.1,394.5 L798.1,394.2 L799.2,393.9 L800.2,393.6 L801.3,393.3 L802.3,393.0 L803.4,392.7 L804.4,392.4 L805.5,392.2 L806.5,391.9 L807.6,391.7 L808.6,391.6 L809.7,391.4 L810.7,391.3 L811.8,391.2 L812.8,391.2 L813.8,391.2 L814.9,391.2 L815.9,391.3 L816.9,391.3 L818.0,391.4 L819.0,391.5 L820.0,391.6 L821.1,391.7 L822.1,391.8 L823.1,392.0 L824.2,392.1 L825.2,392.2 L826.2,392.4 L827.3,392.5 L828.3,392.7 L829.3,392.9 L830.4,393.1 L831.4,393.4 L832.4,393.8 L833.4,394.1 L834.5,394.5 L835.5,395.0 L836.5,395.4 L837.6,395.9 L838.6,396.4 L839.6,396.9 L840.6,397.3 L841.7,397.8 L842.7,398.3 L843.7,398.8 L844.8,399.2 L845.8,399.7 L846.8,400.2 L847.9,400.7 L848.9,401.3 L850.0,401.8 L851.0,402.3 L852.0,402.9 L853.1,403.5 L854.1,404.1 L855.1,404.7 L856.2,405.4 L857.2,406.1 L858.2,406.8 L859.3,407.6 L860.3,408.5 L861.3,409.4 L862.4,410.3 L863.4,411.3 L864.4,412.3 L865.5,413.3 L866.5,414.3 L867.5,415.3 L868.6,416.4 L869.6,417.4 L870.6,418.5 L871.7,419.5 L872.7,420.5 L873.7,421.5 L874.8,422.6 L875.8,423.7 L876.9,424.8 L877.9,425.9 L878.9,427.0 L880.0,428.2 L881.0,429.3 L882.1,430.4 L883.1,431.4 L884.1,432.4 L885.2,433.4 L886.2,434.3 L887.3,435.2 L888.3,436.0 L889.3,436.7 L890.4,437.5 L891.4,438.2 L892.5,438.9 L893.5,439.5 L894.5,440.2 L895.6,440.8 L896.6,441.4 L897.7,442.0 L898.7,442.6 L899.8,443.1 L900.8,443.6 L901.8,444.2 L902.9,444.6 L903.9,445.1 L905.0,445.6 L906.0,446.0 L907.0,446.4 L908.1,446.8 L909.1,447.2 L910.2,447.5 L911.2,447.9 L912.3,448.2 L913.3,448.6 L914.4,448.9 L915.4,449.2 L916.5,449.5 L917.5,449.8 L918.6,450.1 L919.6,450.4 L920.7,450.7 L921.7,451.0 L922.8,451.3 L923.8,451.6 L924.8,451.9 L925.9,452.2 L926.9,452.5 L927.9,452.8 L928.9,453.1 L930.0,453.4 L931.0,453.7 L932.0,454.0 L933.0,454.2 L934.1,454.5 L935.1,454.8 L936.1,455.1 L937.1,455.4 L938.2,455.7 L939.2,456.0 L940.2,456.2 L941.2,456.5 L942.3,456.8 L943.3,457.1" class="c" stroke="#f01010"/></g>
<rect x="651.5" y="328.5" width="292.1" height="294.0" fill="none" stroke="#1c1c1c" stroke-width="2.2"/>
<line x1="647.5" y1="329.0" x2="651.5" y2="329.0" stroke="#1c1c1c" stroke-width="1.6"/>
<text x="645.2" y="333.8" text-anchor="end" class="tk" style="font-size:13px">10<tspan class="sup" dy="-5.2">6</tspan></text>
<line x1="647.5" y1="388.0" x2="651.5" y2="388.0" stroke="#1c1c1c" stroke-width="1.6"/>
<text x="645.2" y="392.8" text-anchor="end" class="tk" style="font-size:13px">10<tspan class="sup" dy="-5.2">5</tspan></text>
<line x1="647.5" y1="446.6" x2="651.5" y2="446.6" stroke="#1c1c1c" stroke-width="1.6"/>
<text x="645.2" y="451.40000000000003" text-anchor="end" class="tk" style="font-size:13px">10<tspan class="sup" dy="-5.2">4</tspan></text>
<line x1="647.5" y1="505.4" x2="651.5" y2="505.4" stroke="#1c1c1c" stroke-width="1.6"/>
<text x="645.2" y="510.2" text-anchor="end" class="tk" style="font-size:13px">10<tspan class="sup" dy="-5.2">3</tspan></text>
<line x1="647.5" y1="564.2" x2="651.5" y2="564.2" stroke="#1c1c1c" stroke-width="1.6"/>
<text x="645.2" y="569.0" text-anchor="end" class="tk" style="font-size:13px">10<tspan class="sup" dy="-5.2">2</tspan></text>
<line x1="647.5" y1="623.0" x2="651.5" y2="623.0" stroke="#1c1c1c" stroke-width="1.6"/>
<text x="645.2" y="627.8" text-anchor="end" class="tk" style="font-size:13px">10<tspan class="sup" dy="-5.2">1</tspan></text>
<line x1="651.5" y1="623.0" x2="651.5" y2="626.5" stroke="#1c1c1c" stroke-width="1.6"/>
<text x="651.5" y="644" text-anchor="middle" class="tk">0</text>
<line x1="705.1" y1="623.0" x2="705.1" y2="626.5" stroke="#1c1c1c" stroke-width="1.6"/>
<text x="705.1" y="644" text-anchor="middle" class="tk">500</text>
<line x1="758.7" y1="623.0" x2="758.7" y2="626.5" stroke="#1c1c1c" stroke-width="1.6"/>
<text x="758.7" y="644" text-anchor="middle" class="tk">1000</text>
<line x1="812.3" y1="623.0" x2="812.3" y2="626.5" stroke="#1c1c1c" stroke-width="1.6"/>
<text x="812.3" y="644" text-anchor="middle" class="tk">1500</text>
<line x1="865.9" y1="623.0" x2="865.9" y2="626.5" stroke="#1c1c1c" stroke-width="1.6"/>
<text x="865.9" y="644" text-anchor="middle" class="tk">2000</text>
<line x1="919.5" y1="623.0" x2="919.5" y2="626.5" stroke="#1c1c1c" stroke-width="1.6"/>
<text x="683.6" y="354.8" class="lb" fill="#3c3ce6" textLength="13.5" lengthAdjust="spacingAndGlyphs">In</text>
<text x="680.2" y="384.8" class="lbn" fill="#1a1a1a" textLength="19.5" lengthAdjust="spacingAndGlyphs">Cu</text>
<text x="680.2" y="412.6" class="lb" fill="#2a8a2a" textLength="18.5" lengthAdjust="spacingAndGlyphs">Se</text>
<text x="679.3" y="460.4" class="lb" fill="#e01818" style="font-size:18.5px" textLength="22" lengthAdjust="spacingAndGlyphs">Ga</text>
<text x="686" y="533" class="lb" fill="#c828c8" style="font-size:18px" textLength="8.5" lengthAdjust="spacingAndGlyphs">S</text>
<text x="678.8" y="585.8" class="lbi" fill="#4c6ea4" textLength="21.5" lengthAdjust="spacingAndGlyphs">Mo</text>

<text x="277.5" y="670" text-anchor="middle" class="ax" textLength="78" lengthAdjust="spacingAndGlyphs">Depth, nm</text>
<text x="795.8" y="670" text-anchor="middle" class="ax" textLength="79" lengthAdjust="spacingAndGlyphs">Depth, nm</text>
<text transform="translate(99.5,536.5) rotate(-90)" class="ax" textLength="124" lengthAdjust="spacingAndGlyphs">Intensity, (c/s)</text>
<text transform="translate(617.3,537.5) rotate(-90)" class="ax" textLength="126" lengthAdjust="spacingAndGlyphs">Intensity, (c/s)</text>


<g fill="#1c1cf0" class="bl">
<rect x="441" y="347" width="3" height="3" fill="#6a6ad8"/>
<rect x="441" y="374" width="3" height="3" fill="#6a6ad8"/>
<rect x="441" y="476" width="3" height="3" fill="#6a6ad8"/>
<rect x="441" y="528" width="3" height="3" fill="#6a6ad8"/>
<text x="463.5" y="352.8" textLength="106" lengthAdjust="spacingAndGlyphs">Void filling</text>
<text x="464" y="378.6"><tspan font-style="italic">Mo</tspan>(Se,S)<tspan font-size="13" dy="3">2</tspan></text>
<text x="460" y="405" textLength="96" lengthAdjust="spacingAndGlyphs">formation</text>
<text x="463.8" y="482.8" textLength="119.5" lengthAdjust="spacingAndGlyphs">Ga diffusion</text>
<text x="463.8" y="508.5" textLength="101.7" lengthAdjust="spacingAndGlyphs">to surface</text>
<text x="463.8" y="534.5">S</text>
<text x="463.8" y="560.8" textLength="135.8" lengthAdjust="spacingAndGlyphs">incorporation</text>
</g>

<rect x="95" y="317" width="36" height="9.3" fill="#fff"/>
<rect x="612" y="317" width="37" height="9.3" fill="#fff"/>
</svg>
</body></html>
